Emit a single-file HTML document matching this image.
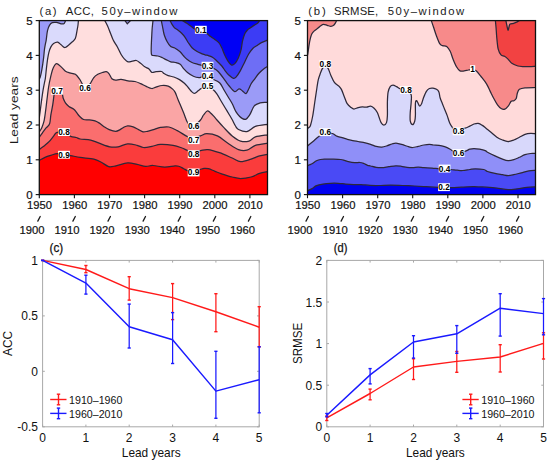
<!DOCTYPE html><html><head><meta charset="utf-8"><style>html,body{margin:0;padding:0;background:#fff;}svg{display:block}text{font-family:"Liberation Sans", sans-serif}</style></head><body>
<svg width="550" height="464" viewBox="0 0 550 464">
<rect width="550" height="464" fill="#fff"/>
<defs><clipPath id="ca"><rect x="39.3" y="20.6" width="228.2" height="174.0"/></clipPath><clipPath id="cb"><rect x="307.5" y="20.6" width="228.0" height="174.0"/></clipPath></defs>
<g clip-path="url(#ca)">
<rect x="39.3" y="20.6" width="228.2" height="174.0" fill="#ff0000"/>
<path d="M39.30,160.40 C40.25,159.90 43.05,158.25 45.00,157.40 C46.95,156.55 48.98,155.93 51.00,155.30 C53.02,154.67 54.93,153.72 57.10,153.60 C59.27,153.48 61.73,154.27 64.00,154.60 C66.27,154.93 68.00,155.13 70.70,155.60 C73.40,156.07 76.33,156.82 80.20,157.40 C84.07,157.98 90.38,158.30 93.90,159.10 C97.42,159.90 98.83,160.95 101.30,162.20 C103.77,163.45 106.25,166.00 108.70,166.60 C111.15,167.20 112.85,166.42 116.00,165.80 C119.15,165.18 124.08,163.15 127.60,162.90 C131.12,162.65 134.10,163.72 137.10,164.30 C140.10,164.88 142.95,166.20 145.60,166.40 C148.25,166.60 149.82,165.38 153.00,165.50 C156.18,165.62 161.00,167.05 164.70,167.10 C168.40,167.15 172.75,165.90 175.20,165.80 C177.65,165.70 177.98,166.02 179.40,166.50 C180.82,166.98 182.35,168.02 183.70,168.70 C185.05,169.38 185.85,170.15 187.50,170.60 C189.15,171.05 191.50,171.58 193.60,171.40 C195.70,171.22 198.35,170.00 200.10,169.50 C201.85,169.00 202.70,168.53 204.10,168.40 C205.50,168.27 206.68,168.22 208.50,168.70 C210.32,169.18 212.82,170.45 215.00,171.30 C217.18,172.15 218.73,172.85 221.60,173.80 C224.47,174.75 229.03,176.22 232.20,177.00 C235.37,177.78 237.45,178.50 240.60,178.50 C243.75,178.50 247.93,177.85 251.10,177.00 C254.27,176.15 256.87,174.28 259.60,173.40 C262.33,172.52 266.18,171.98 267.50,171.70 L267.5,19.6 L39.3,19.6 Z" fill="#fa3c3c"/>
<path d="M39.30,149.40 C39.47,149.28 39.38,149.37 40.30,148.70 C41.22,148.03 43.30,146.62 44.80,145.40 C46.30,144.18 47.80,143.00 49.30,141.40 C50.80,139.80 52.58,137.27 53.80,135.80 C55.02,134.33 55.07,133.17 56.60,132.60 C58.13,132.03 60.65,131.78 63.00,132.40 C65.35,133.02 68.48,135.45 70.70,136.30 C72.92,137.15 74.72,137.05 76.30,137.50 C77.88,137.95 77.80,138.57 80.20,139.00 C82.60,139.43 87.53,139.40 90.70,140.10 C93.87,140.80 96.03,142.08 99.20,143.20 C102.37,144.32 106.53,146.20 109.70,146.80 C112.87,147.40 115.22,147.28 118.20,146.80 C121.18,146.32 124.45,144.15 127.60,143.90 C130.75,143.65 134.45,144.70 137.10,145.30 C139.75,145.90 141.02,147.32 143.50,147.50 C145.98,147.68 149.18,146.93 152.00,146.40 C154.82,145.87 156.88,144.48 160.40,144.30 C163.92,144.12 169.50,144.68 173.10,145.30 C176.70,145.92 179.53,147.12 182.00,148.00 C184.47,148.88 185.95,150.02 187.90,150.60 C189.85,151.18 191.60,151.50 193.70,151.50 C195.80,151.50 198.13,150.92 200.50,150.60 C202.87,150.28 204.73,149.25 207.90,149.60 C211.07,149.95 215.45,151.30 219.50,152.70 C223.55,154.10 228.68,156.52 232.20,158.00 C235.72,159.48 237.45,161.42 240.60,161.60 C243.75,161.78 247.93,160.05 251.10,159.10 C254.27,158.15 256.87,156.68 259.60,155.90 C262.33,155.12 266.18,154.65 267.50,154.40 L267.5,19.6 L39.3,19.6 Z" fill="#fa6e6e"/>
<path d="M39.30,137.30 C39.83,136.55 41.33,134.40 42.50,132.80 C43.67,131.20 45.12,129.20 46.30,127.70 C47.48,126.20 48.83,125.97 49.60,123.80 C50.37,121.63 50.37,117.93 50.90,114.70 C51.43,111.47 52.27,107.73 52.80,104.40 C53.33,101.07 53.73,96.85 54.10,94.70 C54.47,92.55 54.52,92.37 55.00,91.50 C55.48,90.63 56.08,89.50 57.00,89.50 C57.92,89.50 59.60,90.67 60.50,91.50 C61.40,92.33 61.95,93.38 62.40,94.50 C62.85,95.62 62.67,96.77 63.20,98.20 C63.73,99.63 64.65,101.73 65.60,103.10 C66.55,104.47 67.53,105.38 68.90,106.40 C70.27,107.42 72.57,108.25 73.80,109.20 C75.03,110.15 75.35,110.93 76.30,112.10 C77.25,113.27 78.28,114.97 79.50,116.20 C80.72,117.43 81.95,118.88 83.60,119.50 C85.25,120.12 87.50,119.67 89.40,119.90 C91.30,120.13 93.33,120.37 95.00,120.90 C96.67,121.43 97.95,122.18 99.40,123.10 C100.85,124.02 102.07,125.32 103.70,126.40 C105.33,127.48 107.20,128.78 109.20,129.60 C111.20,130.42 113.88,131.30 115.70,131.30 C117.52,131.30 118.82,130.23 120.10,129.60 C121.38,128.97 122.13,128.13 123.40,127.50 C124.67,126.87 126.07,125.90 127.70,125.80 C129.33,125.70 131.38,126.27 133.20,126.90 C135.02,127.53 136.97,128.78 138.60,129.60 C140.23,130.42 141.53,131.52 143.00,131.80 C144.47,132.08 145.95,131.57 147.40,131.30 C148.85,131.03 150.43,130.57 151.70,130.20 C152.97,129.83 153.55,129.57 155.00,129.10 C156.45,128.63 158.08,127.75 160.40,127.40 C162.72,127.05 166.08,126.47 168.90,127.00 C171.72,127.53 174.13,128.95 177.30,130.60 C180.47,132.25 185.17,135.67 187.90,136.90 C190.63,138.13 191.60,138.17 193.70,138.00 C195.80,137.83 198.32,136.62 200.50,135.90 C202.68,135.18 203.98,133.70 206.80,133.70 C209.62,133.70 213.88,134.32 217.40,135.90 C220.92,137.48 224.38,140.92 227.90,143.20 C231.42,145.48 235.33,148.43 238.50,149.60 C241.67,150.77 244.08,150.92 246.90,150.20 C249.72,149.48 251.97,146.47 255.40,145.30 C258.83,144.13 265.48,143.55 267.50,143.20 L267.5,19.6 L39.3,19.6 Z" fill="#faa5a5"/>
<path d="M39.30,132.00 C39.72,131.28 41.02,129.50 41.80,127.70 C42.58,125.90 43.37,124.00 44.00,121.20 C44.63,118.40 45.08,114.68 45.60,110.90 C46.12,107.12 46.60,102.48 47.10,98.50 C47.60,94.52 48.00,90.65 48.60,87.00 C49.20,83.35 49.93,79.78 50.70,76.60 C51.47,73.42 52.20,70.07 53.20,67.90 C54.20,65.73 55.25,63.65 56.70,63.60 C58.15,63.55 60.43,66.33 61.90,67.60 C63.37,68.87 64.18,70.32 65.50,71.20 C66.82,72.08 68.15,72.38 69.80,72.90 C71.45,73.42 73.77,73.25 75.40,74.30 C77.03,75.35 78.43,77.58 79.60,79.20 C80.77,80.82 81.50,82.70 82.40,84.00 C83.30,85.30 84.10,86.75 85.00,87.00 C85.90,87.25 86.95,86.00 87.80,85.50 C88.65,85.00 89.13,85.28 90.10,84.00 C91.07,82.72 92.32,79.42 93.60,77.80 C94.88,76.18 96.27,75.20 97.80,74.30 C99.33,73.40 101.38,72.83 102.80,72.40 C104.22,71.97 105.25,71.47 106.30,71.70 C107.35,71.93 108.17,72.63 109.10,73.80 C110.03,74.97 110.85,77.65 111.90,78.70 C112.95,79.75 113.88,79.98 115.40,80.10 C116.92,80.22 118.90,79.28 121.00,79.40 C123.10,79.52 125.67,80.45 128.00,80.80 C130.33,81.15 132.90,81.03 135.00,81.50 C137.10,81.97 138.73,82.78 140.60,83.60 C142.47,84.42 144.33,85.58 146.20,86.40 C148.07,87.22 150.17,88.38 151.80,88.50 C153.43,88.62 154.30,87.60 156.00,87.10 C157.70,86.60 159.97,85.67 162.00,85.50 C164.03,85.33 166.47,85.53 168.20,86.10 C169.93,86.67 171.23,87.85 172.40,88.90 C173.57,89.95 174.23,90.55 175.20,92.40 C176.17,94.25 176.80,96.62 178.20,100.00 C179.60,103.38 181.98,108.83 183.60,112.70 C185.22,116.57 186.22,120.98 187.90,123.20 C189.58,125.42 191.60,126.53 193.70,126.00 C195.80,125.47 198.87,121.83 200.50,120.00 C202.13,118.17 202.38,116.50 203.50,115.00 C204.62,113.50 206.12,111.43 207.20,111.00 C208.28,110.57 208.83,111.47 210.00,112.40 C211.17,113.33 213.03,115.33 214.20,116.60 C215.37,117.87 215.42,118.20 217.00,120.00 C218.58,121.80 221.17,124.75 223.70,127.40 C226.23,130.05 229.38,133.62 232.20,135.90 C235.02,138.18 237.80,140.23 240.60,141.10 C243.40,141.97 246.53,141.80 249.00,141.10 C251.47,140.40 252.32,137.95 255.40,136.90 C258.48,135.85 265.48,135.15 267.50,134.80 L267.5,19.6 L39.3,19.6 Z" fill="#ffdede"/>
<path d="M39.30,118.00 C39.62,115.53 40.60,107.68 41.20,103.20 C41.80,98.72 42.37,94.47 42.90,91.10 C43.43,87.73 43.98,85.18 44.40,83.00 C44.82,80.82 45.07,80.40 45.40,78.00 C45.73,75.60 46.03,71.75 46.40,68.60 C46.77,65.45 47.18,61.82 47.60,59.10 C48.02,56.38 48.35,54.33 48.90,52.30 C49.45,50.27 50.12,48.37 50.90,46.90 C51.68,45.43 52.47,44.30 53.60,43.50 C54.73,42.70 56.45,41.88 57.70,42.10 C58.95,42.32 59.85,43.90 61.10,44.80 C62.35,45.70 63.47,47.88 65.20,47.50 C66.93,47.12 69.82,43.98 71.50,42.50 C73.18,41.02 74.35,40.73 75.30,38.60 C76.25,36.47 76.75,31.97 77.20,29.70 C77.65,27.43 77.80,26.52 78.00,25.00 C78.20,23.48 78.33,21.33 78.40,20.60 L39.3,19.6 Z" fill="#dadafc"/>
<path d="M104.80,20.60 C105.27,21.50 106.67,23.93 107.60,26.00 C108.53,28.07 109.47,30.67 110.40,33.00 C111.33,35.33 112.03,37.67 113.20,40.00 C114.37,42.33 116.10,44.63 117.40,47.00 C118.70,49.37 119.82,52.18 121.00,54.20 C122.18,56.22 123.33,57.82 124.50,59.10 C125.67,60.38 126.72,61.55 128.00,61.90 C129.28,62.25 130.80,61.43 132.20,61.20 C133.60,60.97 135.00,60.15 136.40,60.50 C137.80,60.85 139.20,62.25 140.60,63.30 C142.00,64.35 143.40,65.87 144.80,66.80 C146.20,67.73 147.83,67.97 149.00,68.90 C150.17,69.83 150.63,71.93 151.80,72.40 C152.97,72.87 154.37,71.85 156.00,71.70 C157.63,71.55 160.27,71.20 161.60,71.50 C162.93,71.80 162.90,72.82 164.00,73.50 C165.10,74.18 166.57,75.02 168.20,75.60 C169.83,76.18 171.92,76.33 173.80,77.00 C175.68,77.67 177.73,78.57 179.50,79.60 C181.27,80.63 182.95,81.88 184.40,83.20 C185.85,84.52 186.95,86.05 188.20,87.50 C189.45,88.95 190.88,90.92 191.90,91.90 C192.92,92.88 193.48,93.40 194.30,93.40 C195.12,93.40 195.93,92.52 196.80,91.90 C197.67,91.28 198.60,90.33 199.50,89.70 C200.40,89.07 200.87,88.63 202.20,88.10 C203.53,87.57 205.62,86.18 207.50,86.50 C209.38,86.82 211.92,88.72 213.50,90.00 C215.08,91.28 215.72,92.33 217.00,94.20 C218.28,96.07 219.80,98.87 221.20,101.20 C222.60,103.53 224.00,105.87 225.40,108.20 C226.80,110.53 228.43,113.23 229.60,115.20 C230.77,117.17 231.42,118.20 232.40,120.00 C233.38,121.80 234.48,124.42 235.50,126.00 C236.52,127.58 236.60,128.57 238.50,129.50 C240.40,130.43 244.08,132.12 246.90,131.60 C249.72,131.08 251.97,127.62 255.40,126.40 C258.83,125.18 265.48,124.65 267.50,124.30 L268.5,19.6 Z" fill="#dadafc"/>
<path d="M39.30,79.00 C39.47,78.65 39.87,78.50 40.30,76.90 C40.73,75.30 41.37,72.45 41.90,69.40 C42.43,66.35 43.08,61.83 43.50,58.60 C43.92,55.37 44.12,52.27 44.40,50.00 C44.68,47.73 44.90,46.65 45.20,45.00 C45.50,43.35 45.82,42.50 46.20,40.10 C46.58,37.70 46.93,33.10 47.50,30.60 C48.07,28.10 48.80,26.43 49.60,25.10 C50.40,23.77 51.17,23.05 52.30,22.60 C53.43,22.15 54.93,22.20 56.40,22.40 C57.87,22.60 59.87,23.57 61.10,23.80 C62.33,24.03 63.12,24.18 63.80,23.80 C64.48,23.42 64.87,22.03 65.20,21.50 C65.53,20.97 65.70,20.75 65.80,20.60 L39.3,19.6 Z" fill="#9b9bf7"/>
<path d="M153.00,20.60 C152.87,21.83 152.40,25.65 152.20,28.00 C152.00,30.35 151.95,31.87 151.80,34.70 C151.65,37.53 151.40,42.20 151.30,45.00 C151.20,47.80 151.15,49.87 151.20,51.50 C151.25,53.13 151.30,54.13 151.60,54.80 C151.90,55.47 151.98,55.30 153.00,55.50 C154.02,55.70 156.12,55.62 157.70,56.00 C159.28,56.38 161.12,57.20 162.50,57.80 C163.88,58.40 164.63,58.92 166.00,59.60 C167.37,60.28 169.12,61.42 170.70,61.90 C172.28,62.38 173.92,62.10 175.50,62.50 C177.08,62.90 178.85,63.28 180.20,64.30 C181.55,65.32 182.33,67.18 183.60,68.60 C184.87,70.02 186.17,71.52 187.80,72.80 C189.43,74.08 191.53,75.48 193.40,76.30 C195.27,77.12 197.60,77.58 199.00,77.70 C200.40,77.82 200.38,77.03 201.80,77.00 C203.22,76.97 205.55,77.08 207.50,77.50 C209.45,77.92 211.45,78.58 213.50,79.50 C215.55,80.42 218.05,81.25 219.80,83.00 C221.55,84.75 222.60,87.67 224.00,90.00 C225.40,92.33 226.80,94.67 228.20,97.00 C229.60,99.33 231.12,101.57 232.40,104.00 C233.68,106.43 234.68,109.52 235.90,111.60 C237.12,113.68 238.60,115.33 239.70,116.50 C240.80,117.67 241.53,118.12 242.50,118.60 C243.47,119.08 244.58,119.63 245.50,119.40 C246.42,119.17 247.18,118.17 248.00,117.20 C248.82,116.23 249.35,115.50 250.40,113.60 C251.45,111.70 252.68,107.58 254.30,105.80 C255.92,104.02 258.17,103.48 260.10,102.90 C262.03,102.32 264.67,102.40 265.90,102.30 C267.13,102.20 267.23,102.30 267.50,102.30 L268.5,19.6 Z" fill="#9b9bf7"/>
<path d="M125.0,20.6 L127.3,23.8 L130.5,20.6 Z" fill="#9b9bf7"/>
<path d="M161.30,20.60 C161.50,21.58 162.02,24.15 162.50,26.50 C162.98,28.85 163.42,32.15 164.20,34.70 C164.98,37.25 166.12,39.82 167.20,41.80 C168.28,43.78 169.52,45.62 170.70,46.60 C171.88,47.58 173.12,47.12 174.30,47.70 C175.48,48.28 176.72,49.30 177.80,50.10 C178.88,50.90 179.82,51.52 180.80,52.50 C181.78,53.48 182.62,54.82 183.70,56.00 C184.78,57.18 185.92,58.52 187.30,59.60 C188.68,60.68 190.23,61.72 192.00,62.50 C193.77,63.28 196.13,63.80 197.90,64.30 C199.67,64.80 201.00,65.22 202.60,65.50 C204.20,65.78 205.68,65.53 207.50,66.00 C209.32,66.47 211.68,67.33 213.50,68.30 C215.32,69.27 216.48,69.78 218.40,71.80 C220.32,73.82 223.20,78.03 225.00,80.40 C226.80,82.77 227.57,84.13 229.20,86.00 C230.83,87.87 233.17,91.13 234.80,91.60 C236.43,92.07 237.72,88.92 239.00,88.80 C240.28,88.68 241.33,90.08 242.50,90.90 C243.67,91.72 244.95,94.05 246.00,93.70 C247.05,93.35 247.97,90.42 248.80,88.80 C249.63,87.18 250.00,85.67 251.00,84.00 C252.00,82.33 253.47,80.60 254.80,78.80 C256.13,77.00 257.37,74.95 259.00,73.20 C260.63,71.45 263.18,69.42 264.60,68.30 C266.02,67.18 267.02,66.80 267.50,66.50 L268.5,19.6 Z" fill="#6e6ef5"/>
<path d="M170.10,20.60 C170.40,21.18 171.20,22.93 171.90,24.10 C172.60,25.27 173.32,26.62 174.30,27.60 C175.28,28.58 176.62,29.10 177.80,30.00 C178.98,30.90 180.22,31.82 181.40,33.00 C182.58,34.18 183.72,35.43 184.90,37.10 C186.08,38.77 187.32,41.23 188.50,43.00 C189.68,44.77 190.63,46.32 192.00,47.70 C193.37,49.08 195.12,50.32 196.70,51.30 C198.28,52.28 200.12,53.02 201.50,53.60 C202.88,54.18 203.78,54.43 205.00,54.80 C206.22,55.17 207.50,55.35 208.80,55.80 C210.10,56.25 211.57,56.73 212.80,57.50 C214.03,58.27 214.70,58.98 216.20,60.40 C217.70,61.82 220.33,64.30 221.80,66.00 C223.27,67.70 223.88,69.13 225.00,70.60 C226.12,72.07 227.10,73.52 228.50,74.80 C229.90,76.08 232.12,77.95 233.40,78.30 C234.68,78.65 235.03,78.18 236.20,76.90 C237.37,75.62 239.00,73.05 240.40,70.60 C241.80,68.15 243.20,65.00 244.60,62.20 C246.00,59.40 247.40,56.13 248.80,53.80 C250.20,51.47 251.60,49.60 253.00,48.20 C254.40,46.80 255.80,46.33 257.20,45.40 C258.60,44.47 259.68,43.47 261.40,42.60 C263.12,41.73 266.48,40.60 267.50,40.20 L268.5,19.6 Z" fill="#3c3cf5"/>
<path d="M182.60,20.60 C183.38,21.08 185.73,22.43 187.30,23.50 C188.87,24.57 190.63,26.00 192.00,27.00 C193.37,28.00 194.03,28.83 195.50,29.50 C196.97,30.17 198.98,30.40 200.80,31.00 C202.62,31.60 204.77,32.17 206.40,33.10 C208.03,34.03 209.20,35.55 210.60,36.60 C212.00,37.65 213.40,38.35 214.80,39.40 C216.20,40.45 217.83,41.50 219.00,42.90 C220.17,44.30 220.87,45.82 221.80,47.80 C222.73,49.78 223.60,52.63 224.60,54.80 C225.60,56.97 226.68,59.10 227.80,60.80 C228.92,62.50 230.13,64.53 231.30,65.00 C232.47,65.47 233.63,64.77 234.80,63.60 C235.97,62.43 237.25,60.33 238.30,58.00 C239.35,55.67 240.40,52.40 241.10,49.60 C241.80,46.80 241.92,43.77 242.50,41.20 C243.08,38.63 243.78,36.07 244.60,34.20 C245.42,32.33 246.53,31.00 247.40,30.00 C248.27,29.00 248.70,28.97 249.80,28.20 C250.90,27.43 252.72,26.22 254.00,25.40 C255.28,24.58 256.57,24.10 257.50,23.30 C258.43,22.50 259.25,21.05 259.60,20.60 Z" fill="#0000f5"/>
<path d="M39.30,160.40 C40.25,159.90 43.05,158.25 45.00,157.40 C46.95,156.55 48.98,155.93 51.00,155.30 C53.02,154.67 54.93,153.72 57.10,153.60 C59.27,153.48 61.73,154.27 64.00,154.60 C66.27,154.93 68.00,155.13 70.70,155.60 C73.40,156.07 76.33,156.82 80.20,157.40 C84.07,157.98 90.38,158.30 93.90,159.10 C97.42,159.90 98.83,160.95 101.30,162.20 C103.77,163.45 106.25,166.00 108.70,166.60 C111.15,167.20 112.85,166.42 116.00,165.80 C119.15,165.18 124.08,163.15 127.60,162.90 C131.12,162.65 134.10,163.72 137.10,164.30 C140.10,164.88 142.95,166.20 145.60,166.40 C148.25,166.60 149.82,165.38 153.00,165.50 C156.18,165.62 161.00,167.05 164.70,167.10 C168.40,167.15 172.75,165.90 175.20,165.80 C177.65,165.70 177.98,166.02 179.40,166.50 C180.82,166.98 182.35,168.02 183.70,168.70 C185.05,169.38 185.85,170.15 187.50,170.60 C189.15,171.05 191.50,171.58 193.60,171.40 C195.70,171.22 198.35,170.00 200.10,169.50 C201.85,169.00 202.70,168.53 204.10,168.40 C205.50,168.27 206.68,168.22 208.50,168.70 C210.32,169.18 212.82,170.45 215.00,171.30 C217.18,172.15 218.73,172.85 221.60,173.80 C224.47,174.75 229.03,176.22 232.20,177.00 C235.37,177.78 237.45,178.50 240.60,178.50 C243.75,178.50 247.93,177.85 251.10,177.00 C254.27,176.15 256.87,174.28 259.60,173.40 C262.33,172.52 266.18,171.98 267.50,171.70" fill="none" stroke="#2e2838" stroke-width="1.25" stroke-linejoin="round"/>
<path d="M39.30,149.40 C39.47,149.28 39.38,149.37 40.30,148.70 C41.22,148.03 43.30,146.62 44.80,145.40 C46.30,144.18 47.80,143.00 49.30,141.40 C50.80,139.80 52.58,137.27 53.80,135.80 C55.02,134.33 55.07,133.17 56.60,132.60 C58.13,132.03 60.65,131.78 63.00,132.40 C65.35,133.02 68.48,135.45 70.70,136.30 C72.92,137.15 74.72,137.05 76.30,137.50 C77.88,137.95 77.80,138.57 80.20,139.00 C82.60,139.43 87.53,139.40 90.70,140.10 C93.87,140.80 96.03,142.08 99.20,143.20 C102.37,144.32 106.53,146.20 109.70,146.80 C112.87,147.40 115.22,147.28 118.20,146.80 C121.18,146.32 124.45,144.15 127.60,143.90 C130.75,143.65 134.45,144.70 137.10,145.30 C139.75,145.90 141.02,147.32 143.50,147.50 C145.98,147.68 149.18,146.93 152.00,146.40 C154.82,145.87 156.88,144.48 160.40,144.30 C163.92,144.12 169.50,144.68 173.10,145.30 C176.70,145.92 179.53,147.12 182.00,148.00 C184.47,148.88 185.95,150.02 187.90,150.60 C189.85,151.18 191.60,151.50 193.70,151.50 C195.80,151.50 198.13,150.92 200.50,150.60 C202.87,150.28 204.73,149.25 207.90,149.60 C211.07,149.95 215.45,151.30 219.50,152.70 C223.55,154.10 228.68,156.52 232.20,158.00 C235.72,159.48 237.45,161.42 240.60,161.60 C243.75,161.78 247.93,160.05 251.10,159.10 C254.27,158.15 256.87,156.68 259.60,155.90 C262.33,155.12 266.18,154.65 267.50,154.40" fill="none" stroke="#2e2838" stroke-width="1.25" stroke-linejoin="round"/>
<path d="M39.30,137.30 C39.83,136.55 41.33,134.40 42.50,132.80 C43.67,131.20 45.12,129.20 46.30,127.70 C47.48,126.20 48.83,125.97 49.60,123.80 C50.37,121.63 50.37,117.93 50.90,114.70 C51.43,111.47 52.27,107.73 52.80,104.40 C53.33,101.07 53.73,96.85 54.10,94.70 C54.47,92.55 54.52,92.37 55.00,91.50 C55.48,90.63 56.08,89.50 57.00,89.50 C57.92,89.50 59.60,90.67 60.50,91.50 C61.40,92.33 61.95,93.38 62.40,94.50 C62.85,95.62 62.67,96.77 63.20,98.20 C63.73,99.63 64.65,101.73 65.60,103.10 C66.55,104.47 67.53,105.38 68.90,106.40 C70.27,107.42 72.57,108.25 73.80,109.20 C75.03,110.15 75.35,110.93 76.30,112.10 C77.25,113.27 78.28,114.97 79.50,116.20 C80.72,117.43 81.95,118.88 83.60,119.50 C85.25,120.12 87.50,119.67 89.40,119.90 C91.30,120.13 93.33,120.37 95.00,120.90 C96.67,121.43 97.95,122.18 99.40,123.10 C100.85,124.02 102.07,125.32 103.70,126.40 C105.33,127.48 107.20,128.78 109.20,129.60 C111.20,130.42 113.88,131.30 115.70,131.30 C117.52,131.30 118.82,130.23 120.10,129.60 C121.38,128.97 122.13,128.13 123.40,127.50 C124.67,126.87 126.07,125.90 127.70,125.80 C129.33,125.70 131.38,126.27 133.20,126.90 C135.02,127.53 136.97,128.78 138.60,129.60 C140.23,130.42 141.53,131.52 143.00,131.80 C144.47,132.08 145.95,131.57 147.40,131.30 C148.85,131.03 150.43,130.57 151.70,130.20 C152.97,129.83 153.55,129.57 155.00,129.10 C156.45,128.63 158.08,127.75 160.40,127.40 C162.72,127.05 166.08,126.47 168.90,127.00 C171.72,127.53 174.13,128.95 177.30,130.60 C180.47,132.25 185.17,135.67 187.90,136.90 C190.63,138.13 191.60,138.17 193.70,138.00 C195.80,137.83 198.32,136.62 200.50,135.90 C202.68,135.18 203.98,133.70 206.80,133.70 C209.62,133.70 213.88,134.32 217.40,135.90 C220.92,137.48 224.38,140.92 227.90,143.20 C231.42,145.48 235.33,148.43 238.50,149.60 C241.67,150.77 244.08,150.92 246.90,150.20 C249.72,149.48 251.97,146.47 255.40,145.30 C258.83,144.13 265.48,143.55 267.50,143.20" fill="none" stroke="#2e2838" stroke-width="1.25" stroke-linejoin="round"/>
<path d="M39.30,132.00 C39.72,131.28 41.02,129.50 41.80,127.70 C42.58,125.90 43.37,124.00 44.00,121.20 C44.63,118.40 45.08,114.68 45.60,110.90 C46.12,107.12 46.60,102.48 47.10,98.50 C47.60,94.52 48.00,90.65 48.60,87.00 C49.20,83.35 49.93,79.78 50.70,76.60 C51.47,73.42 52.20,70.07 53.20,67.90 C54.20,65.73 55.25,63.65 56.70,63.60 C58.15,63.55 60.43,66.33 61.90,67.60 C63.37,68.87 64.18,70.32 65.50,71.20 C66.82,72.08 68.15,72.38 69.80,72.90 C71.45,73.42 73.77,73.25 75.40,74.30 C77.03,75.35 78.43,77.58 79.60,79.20 C80.77,80.82 81.50,82.70 82.40,84.00 C83.30,85.30 84.10,86.75 85.00,87.00 C85.90,87.25 86.95,86.00 87.80,85.50 C88.65,85.00 89.13,85.28 90.10,84.00 C91.07,82.72 92.32,79.42 93.60,77.80 C94.88,76.18 96.27,75.20 97.80,74.30 C99.33,73.40 101.38,72.83 102.80,72.40 C104.22,71.97 105.25,71.47 106.30,71.70 C107.35,71.93 108.17,72.63 109.10,73.80 C110.03,74.97 110.85,77.65 111.90,78.70 C112.95,79.75 113.88,79.98 115.40,80.10 C116.92,80.22 118.90,79.28 121.00,79.40 C123.10,79.52 125.67,80.45 128.00,80.80 C130.33,81.15 132.90,81.03 135.00,81.50 C137.10,81.97 138.73,82.78 140.60,83.60 C142.47,84.42 144.33,85.58 146.20,86.40 C148.07,87.22 150.17,88.38 151.80,88.50 C153.43,88.62 154.30,87.60 156.00,87.10 C157.70,86.60 159.97,85.67 162.00,85.50 C164.03,85.33 166.47,85.53 168.20,86.10 C169.93,86.67 171.23,87.85 172.40,88.90 C173.57,89.95 174.23,90.55 175.20,92.40 C176.17,94.25 176.80,96.62 178.20,100.00 C179.60,103.38 181.98,108.83 183.60,112.70 C185.22,116.57 186.22,120.98 187.90,123.20 C189.58,125.42 191.60,126.53 193.70,126.00 C195.80,125.47 198.87,121.83 200.50,120.00 C202.13,118.17 202.38,116.50 203.50,115.00 C204.62,113.50 206.12,111.43 207.20,111.00 C208.28,110.57 208.83,111.47 210.00,112.40 C211.17,113.33 213.03,115.33 214.20,116.60 C215.37,117.87 215.42,118.20 217.00,120.00 C218.58,121.80 221.17,124.75 223.70,127.40 C226.23,130.05 229.38,133.62 232.20,135.90 C235.02,138.18 237.80,140.23 240.60,141.10 C243.40,141.97 246.53,141.80 249.00,141.10 C251.47,140.40 252.32,137.95 255.40,136.90 C258.48,135.85 265.48,135.15 267.50,134.80" fill="none" stroke="#2e2838" stroke-width="1.25" stroke-linejoin="round"/>
<path d="M39.30,118.00 C39.62,115.53 40.60,107.68 41.20,103.20 C41.80,98.72 42.37,94.47 42.90,91.10 C43.43,87.73 43.98,85.18 44.40,83.00 C44.82,80.82 45.07,80.40 45.40,78.00 C45.73,75.60 46.03,71.75 46.40,68.60 C46.77,65.45 47.18,61.82 47.60,59.10 C48.02,56.38 48.35,54.33 48.90,52.30 C49.45,50.27 50.12,48.37 50.90,46.90 C51.68,45.43 52.47,44.30 53.60,43.50 C54.73,42.70 56.45,41.88 57.70,42.10 C58.95,42.32 59.85,43.90 61.10,44.80 C62.35,45.70 63.47,47.88 65.20,47.50 C66.93,47.12 69.82,43.98 71.50,42.50 C73.18,41.02 74.35,40.73 75.30,38.60 C76.25,36.47 76.75,31.97 77.20,29.70 C77.65,27.43 77.80,26.52 78.00,25.00 C78.20,23.48 78.33,21.33 78.40,20.60" fill="none" stroke="#2e2838" stroke-width="1.25" stroke-linejoin="round"/>
<path d="M104.80,20.60 C105.27,21.50 106.67,23.93 107.60,26.00 C108.53,28.07 109.47,30.67 110.40,33.00 C111.33,35.33 112.03,37.67 113.20,40.00 C114.37,42.33 116.10,44.63 117.40,47.00 C118.70,49.37 119.82,52.18 121.00,54.20 C122.18,56.22 123.33,57.82 124.50,59.10 C125.67,60.38 126.72,61.55 128.00,61.90 C129.28,62.25 130.80,61.43 132.20,61.20 C133.60,60.97 135.00,60.15 136.40,60.50 C137.80,60.85 139.20,62.25 140.60,63.30 C142.00,64.35 143.40,65.87 144.80,66.80 C146.20,67.73 147.83,67.97 149.00,68.90 C150.17,69.83 150.63,71.93 151.80,72.40 C152.97,72.87 154.37,71.85 156.00,71.70 C157.63,71.55 160.27,71.20 161.60,71.50 C162.93,71.80 162.90,72.82 164.00,73.50 C165.10,74.18 166.57,75.02 168.20,75.60 C169.83,76.18 171.92,76.33 173.80,77.00 C175.68,77.67 177.73,78.57 179.50,79.60 C181.27,80.63 182.95,81.88 184.40,83.20 C185.85,84.52 186.95,86.05 188.20,87.50 C189.45,88.95 190.88,90.92 191.90,91.90 C192.92,92.88 193.48,93.40 194.30,93.40 C195.12,93.40 195.93,92.52 196.80,91.90 C197.67,91.28 198.60,90.33 199.50,89.70 C200.40,89.07 200.87,88.63 202.20,88.10 C203.53,87.57 205.62,86.18 207.50,86.50 C209.38,86.82 211.92,88.72 213.50,90.00 C215.08,91.28 215.72,92.33 217.00,94.20 C218.28,96.07 219.80,98.87 221.20,101.20 C222.60,103.53 224.00,105.87 225.40,108.20 C226.80,110.53 228.43,113.23 229.60,115.20 C230.77,117.17 231.42,118.20 232.40,120.00 C233.38,121.80 234.48,124.42 235.50,126.00 C236.52,127.58 236.60,128.57 238.50,129.50 C240.40,130.43 244.08,132.12 246.90,131.60 C249.72,131.08 251.97,127.62 255.40,126.40 C258.83,125.18 265.48,124.65 267.50,124.30" fill="none" stroke="#2e2838" stroke-width="1.25" stroke-linejoin="round"/>
<path d="M39.30,79.00 C39.47,78.65 39.87,78.50 40.30,76.90 C40.73,75.30 41.37,72.45 41.90,69.40 C42.43,66.35 43.08,61.83 43.50,58.60 C43.92,55.37 44.12,52.27 44.40,50.00 C44.68,47.73 44.90,46.65 45.20,45.00 C45.50,43.35 45.82,42.50 46.20,40.10 C46.58,37.70 46.93,33.10 47.50,30.60 C48.07,28.10 48.80,26.43 49.60,25.10 C50.40,23.77 51.17,23.05 52.30,22.60 C53.43,22.15 54.93,22.20 56.40,22.40 C57.87,22.60 59.87,23.57 61.10,23.80 C62.33,24.03 63.12,24.18 63.80,23.80 C64.48,23.42 64.87,22.03 65.20,21.50 C65.53,20.97 65.70,20.75 65.80,20.60" fill="none" stroke="#2e2838" stroke-width="1.25" stroke-linejoin="round"/>
<path d="M153.00,20.60 C152.87,21.83 152.40,25.65 152.20,28.00 C152.00,30.35 151.95,31.87 151.80,34.70 C151.65,37.53 151.40,42.20 151.30,45.00 C151.20,47.80 151.15,49.87 151.20,51.50 C151.25,53.13 151.30,54.13 151.60,54.80 C151.90,55.47 151.98,55.30 153.00,55.50 C154.02,55.70 156.12,55.62 157.70,56.00 C159.28,56.38 161.12,57.20 162.50,57.80 C163.88,58.40 164.63,58.92 166.00,59.60 C167.37,60.28 169.12,61.42 170.70,61.90 C172.28,62.38 173.92,62.10 175.50,62.50 C177.08,62.90 178.85,63.28 180.20,64.30 C181.55,65.32 182.33,67.18 183.60,68.60 C184.87,70.02 186.17,71.52 187.80,72.80 C189.43,74.08 191.53,75.48 193.40,76.30 C195.27,77.12 197.60,77.58 199.00,77.70 C200.40,77.82 200.38,77.03 201.80,77.00 C203.22,76.97 205.55,77.08 207.50,77.50 C209.45,77.92 211.45,78.58 213.50,79.50 C215.55,80.42 218.05,81.25 219.80,83.00 C221.55,84.75 222.60,87.67 224.00,90.00 C225.40,92.33 226.80,94.67 228.20,97.00 C229.60,99.33 231.12,101.57 232.40,104.00 C233.68,106.43 234.68,109.52 235.90,111.60 C237.12,113.68 238.60,115.33 239.70,116.50 C240.80,117.67 241.53,118.12 242.50,118.60 C243.47,119.08 244.58,119.63 245.50,119.40 C246.42,119.17 247.18,118.17 248.00,117.20 C248.82,116.23 249.35,115.50 250.40,113.60 C251.45,111.70 252.68,107.58 254.30,105.80 C255.92,104.02 258.17,103.48 260.10,102.90 C262.03,102.32 264.67,102.40 265.90,102.30 C267.13,102.20 267.23,102.30 267.50,102.30" fill="none" stroke="#2e2838" stroke-width="1.25" stroke-linejoin="round"/>
<path d="M161.30,20.60 C161.50,21.58 162.02,24.15 162.50,26.50 C162.98,28.85 163.42,32.15 164.20,34.70 C164.98,37.25 166.12,39.82 167.20,41.80 C168.28,43.78 169.52,45.62 170.70,46.60 C171.88,47.58 173.12,47.12 174.30,47.70 C175.48,48.28 176.72,49.30 177.80,50.10 C178.88,50.90 179.82,51.52 180.80,52.50 C181.78,53.48 182.62,54.82 183.70,56.00 C184.78,57.18 185.92,58.52 187.30,59.60 C188.68,60.68 190.23,61.72 192.00,62.50 C193.77,63.28 196.13,63.80 197.90,64.30 C199.67,64.80 201.00,65.22 202.60,65.50 C204.20,65.78 205.68,65.53 207.50,66.00 C209.32,66.47 211.68,67.33 213.50,68.30 C215.32,69.27 216.48,69.78 218.40,71.80 C220.32,73.82 223.20,78.03 225.00,80.40 C226.80,82.77 227.57,84.13 229.20,86.00 C230.83,87.87 233.17,91.13 234.80,91.60 C236.43,92.07 237.72,88.92 239.00,88.80 C240.28,88.68 241.33,90.08 242.50,90.90 C243.67,91.72 244.95,94.05 246.00,93.70 C247.05,93.35 247.97,90.42 248.80,88.80 C249.63,87.18 250.00,85.67 251.00,84.00 C252.00,82.33 253.47,80.60 254.80,78.80 C256.13,77.00 257.37,74.95 259.00,73.20 C260.63,71.45 263.18,69.42 264.60,68.30 C266.02,67.18 267.02,66.80 267.50,66.50" fill="none" stroke="#2e2838" stroke-width="1.25" stroke-linejoin="round"/>
<path d="M170.10,20.60 C170.40,21.18 171.20,22.93 171.90,24.10 C172.60,25.27 173.32,26.62 174.30,27.60 C175.28,28.58 176.62,29.10 177.80,30.00 C178.98,30.90 180.22,31.82 181.40,33.00 C182.58,34.18 183.72,35.43 184.90,37.10 C186.08,38.77 187.32,41.23 188.50,43.00 C189.68,44.77 190.63,46.32 192.00,47.70 C193.37,49.08 195.12,50.32 196.70,51.30 C198.28,52.28 200.12,53.02 201.50,53.60 C202.88,54.18 203.78,54.43 205.00,54.80 C206.22,55.17 207.50,55.35 208.80,55.80 C210.10,56.25 211.57,56.73 212.80,57.50 C214.03,58.27 214.70,58.98 216.20,60.40 C217.70,61.82 220.33,64.30 221.80,66.00 C223.27,67.70 223.88,69.13 225.00,70.60 C226.12,72.07 227.10,73.52 228.50,74.80 C229.90,76.08 232.12,77.95 233.40,78.30 C234.68,78.65 235.03,78.18 236.20,76.90 C237.37,75.62 239.00,73.05 240.40,70.60 C241.80,68.15 243.20,65.00 244.60,62.20 C246.00,59.40 247.40,56.13 248.80,53.80 C250.20,51.47 251.60,49.60 253.00,48.20 C254.40,46.80 255.80,46.33 257.20,45.40 C258.60,44.47 259.68,43.47 261.40,42.60 C263.12,41.73 266.48,40.60 267.50,40.20" fill="none" stroke="#2e2838" stroke-width="1.25" stroke-linejoin="round"/>
<path d="M182.60,20.60 C183.38,21.08 185.73,22.43 187.30,23.50 C188.87,24.57 190.63,26.00 192.00,27.00 C193.37,28.00 194.03,28.83 195.50,29.50 C196.97,30.17 198.98,30.40 200.80,31.00 C202.62,31.60 204.77,32.17 206.40,33.10 C208.03,34.03 209.20,35.55 210.60,36.60 C212.00,37.65 213.40,38.35 214.80,39.40 C216.20,40.45 217.83,41.50 219.00,42.90 C220.17,44.30 220.87,45.82 221.80,47.80 C222.73,49.78 223.60,52.63 224.60,54.80 C225.60,56.97 226.68,59.10 227.80,60.80 C228.92,62.50 230.13,64.53 231.30,65.00 C232.47,65.47 233.63,64.77 234.80,63.60 C235.97,62.43 237.25,60.33 238.30,58.00 C239.35,55.67 240.40,52.40 241.10,49.60 C241.80,46.80 241.92,43.77 242.50,41.20 C243.08,38.63 243.78,36.07 244.60,34.20 C245.42,32.33 246.53,31.00 247.40,30.00 C248.27,29.00 248.70,28.97 249.80,28.20 C250.90,27.43 252.72,26.22 254.00,25.40 C255.28,24.58 256.57,24.10 257.50,23.30 C258.43,22.50 259.25,21.05 259.60,20.60" fill="none" stroke="#2e2838" stroke-width="1.25" stroke-linejoin="round"/>
<path d="M125.0,20.6 L127.3,23.8 L130.5,20.6" fill="none" stroke="#2e2838" stroke-width="1.25"/>
</g>
<g clip-path="url(#cb)">
<rect x="307.5" y="20.6" width="228.0" height="174.0" fill="#ffdada"/>
<path d="M307.50,128.50 C307.83,128.25 308.98,127.58 309.50,127.00 C310.02,126.42 310.07,126.83 310.60,125.00 C311.13,123.17 312.00,119.83 312.70,116.00 C313.40,112.17 314.10,106.67 314.80,102.00 C315.50,97.33 316.32,91.73 316.90,88.00 C317.48,84.27 317.72,82.05 318.30,79.60 C318.88,77.15 319.70,75.17 320.40,73.30 C321.10,71.43 321.68,69.62 322.50,68.40 C323.32,67.18 324.37,66.00 325.30,66.00 C326.23,66.00 327.17,66.83 328.10,68.40 C329.03,69.97 329.85,73.07 330.90,75.40 C331.95,77.73 333.12,80.65 334.40,82.40 C335.68,84.15 337.43,84.73 338.60,85.90 C339.77,87.07 340.47,87.65 341.40,89.40 C342.33,91.15 343.27,94.07 344.20,96.40 C345.13,98.73 345.83,101.53 347.00,103.40 C348.17,105.27 350.03,106.67 351.20,107.60 C352.37,108.53 352.83,109.00 354.00,109.00 C355.17,109.00 356.80,107.95 358.20,107.60 C359.60,107.25 361.00,106.97 362.40,106.90 C363.80,106.83 365.23,107.32 366.60,107.20 C367.97,107.08 369.35,106.02 370.60,106.20 C371.85,106.38 372.98,107.25 374.10,108.30 C375.22,109.35 376.48,111.05 377.30,112.50 C378.12,113.95 378.37,115.32 379.00,117.00 C379.63,118.68 380.28,121.25 381.10,122.60 C381.92,123.95 383.00,125.10 383.90,125.10 C384.80,125.10 385.92,124.18 386.50,122.60 C387.08,121.02 387.25,119.03 387.40,115.60 C387.55,112.17 387.28,105.90 387.40,102.00 C387.52,98.10 387.63,94.77 388.10,92.20 C388.57,89.63 389.38,87.77 390.20,86.60 C391.02,85.43 391.95,85.20 393.00,85.20 C394.05,85.20 395.33,86.02 396.50,86.60 C397.67,87.18 398.42,87.97 400.00,88.70 C401.58,89.43 404.17,90.07 406.00,91.00 C407.83,91.93 410.13,92.47 411.00,94.30 C411.87,96.13 411.33,98.85 411.20,102.00 C411.07,105.15 410.35,110.00 410.20,113.20 C410.05,116.40 409.90,119.28 410.30,121.20 C410.70,123.12 411.87,124.70 412.60,124.70 C413.33,124.70 414.23,122.72 414.70,121.20 C415.17,119.68 415.28,118.57 415.40,115.60 C415.52,112.63 415.25,105.90 415.40,103.40 C415.55,100.90 415.95,100.83 416.30,100.60 C416.65,100.37 416.95,101.10 417.50,102.00 C418.05,102.90 418.90,105.77 419.60,106.00 C420.30,106.23 421.05,104.77 421.70,103.40 C422.35,102.03 422.72,99.82 423.50,97.80 C424.28,95.78 425.42,92.85 426.40,91.30 C427.38,89.75 428.30,89.03 429.40,88.50 C430.50,87.97 431.82,87.97 433.00,88.10 C434.18,88.23 435.52,88.67 436.50,89.30 C437.48,89.93 438.30,90.48 438.90,91.90 C439.50,93.32 439.52,95.83 440.10,97.80 C440.68,99.77 441.62,101.72 442.40,103.70 C443.18,105.68 444.00,107.72 444.80,109.70 C445.60,111.68 446.40,113.43 447.20,115.60 C448.00,117.77 448.80,120.82 449.60,122.70 C450.40,124.58 451.35,125.97 452.00,126.90 C452.65,127.83 452.40,127.98 453.50,128.30 C454.60,128.62 456.70,128.82 458.60,128.80 C460.50,128.78 463.03,128.65 464.90,128.20 C466.77,127.75 468.28,126.80 469.80,126.10 C471.32,125.40 472.60,124.47 474.00,124.00 C475.40,123.53 476.80,123.07 478.20,123.30 C479.60,123.53 481.05,124.53 482.40,125.40 C483.75,126.27 484.82,127.32 486.30,128.50 C487.78,129.68 489.53,131.05 491.30,132.50 C493.07,133.95 495.03,135.95 496.90,137.20 C498.77,138.45 500.63,139.28 502.50,140.00 C504.37,140.72 506.22,141.50 508.10,141.50 C509.98,141.50 511.92,140.72 513.80,140.00 C515.68,139.28 517.53,138.13 519.40,137.20 C521.27,136.27 523.13,135.03 525.00,134.40 C526.87,133.77 528.85,133.50 530.60,133.40 C532.35,133.30 534.68,133.73 535.50,133.80 L535.5,195.6 L307.5,195.6 Z" fill="#d8d8fb"/>
<path d="M307.50,145.90 C308.42,145.17 311.07,143.12 313.00,141.50 C314.93,139.88 317.05,137.53 319.10,136.20 C321.15,134.87 323.08,133.95 325.30,133.50 C327.52,133.05 330.48,133.05 332.40,133.50 C334.32,133.95 335.18,135.52 336.80,136.20 C338.42,136.88 340.33,137.07 342.10,137.60 C343.87,138.13 345.63,138.90 347.40,139.40 C349.17,139.90 350.93,140.25 352.70,140.60 C354.47,140.95 356.23,141.20 358.00,141.50 C359.77,141.80 361.20,141.93 363.30,142.40 C365.40,142.87 368.45,143.63 370.60,144.30 C372.75,144.97 374.33,145.93 376.20,146.40 C378.07,146.87 379.93,147.22 381.80,147.10 C383.67,146.98 385.53,146.28 387.40,145.70 C389.27,145.12 391.37,144.00 393.00,143.60 C394.63,143.20 395.57,143.12 397.20,143.30 C398.83,143.48 400.93,144.13 402.80,144.70 C404.67,145.27 406.77,146.23 408.40,146.70 C410.03,147.17 410.97,147.55 412.60,147.50 C414.23,147.45 416.33,146.82 418.20,146.40 C420.07,145.98 421.97,145.35 423.80,145.00 C425.63,144.65 427.60,144.30 429.20,144.30 C430.80,144.30 431.77,144.83 433.40,145.00 C435.03,145.17 437.13,145.02 439.00,145.30 C440.87,145.58 442.73,146.05 444.60,146.70 C446.47,147.35 448.80,148.48 450.20,149.20 C451.60,149.92 451.60,150.62 453.00,151.00 C454.40,151.38 456.62,151.45 458.60,151.50 C460.58,151.55 463.03,151.68 464.90,151.30 C466.77,150.92 468.28,149.67 469.80,149.20 C471.32,148.73 472.37,148.50 474.00,148.50 C475.63,148.50 477.73,148.85 479.60,149.20 C481.47,149.55 483.88,150.10 485.20,150.60 C486.52,151.10 485.87,151.32 487.50,152.20 C489.13,153.08 492.50,154.75 495.00,155.90 C497.50,157.05 500.32,158.32 502.50,159.10 C504.68,159.88 506.22,160.50 508.10,160.60 C509.98,160.70 511.92,160.25 513.80,159.70 C515.68,159.15 517.53,158.15 519.40,157.30 C521.27,156.45 523.13,155.23 525.00,154.60 C526.87,153.97 528.85,153.68 530.60,153.50 C532.35,153.32 534.68,153.50 535.50,153.50 L535.5,195.6 L307.5,195.6 Z" fill="#8f8ff8"/>
<path d="M307.50,165.50 C308.17,165.25 310.00,164.78 311.50,164.00 C313.00,163.22 315.02,161.55 316.50,160.80 C317.98,160.05 318.90,159.77 320.40,159.50 C321.90,159.23 323.38,159.25 325.50,159.20 C327.62,159.15 330.57,159.15 333.10,159.20 C335.63,159.25 338.80,159.30 340.70,159.50 C342.60,159.70 343.22,160.03 344.50,160.40 C345.78,160.77 346.70,161.32 348.40,161.70 C350.10,162.08 352.80,162.57 354.70,162.70 C356.60,162.83 358.32,162.38 359.80,162.50 C361.28,162.62 362.32,162.93 363.60,163.40 C364.88,163.87 366.33,164.87 367.50,165.30 C368.67,165.73 369.15,165.65 370.60,166.00 C372.05,166.35 374.33,167.12 376.20,167.40 C378.07,167.68 379.70,167.82 381.80,167.70 C383.90,167.58 386.47,167.02 388.80,166.70 C391.13,166.38 393.70,165.87 395.80,165.80 C397.90,165.73 399.53,166.03 401.40,166.30 C403.27,166.57 405.13,167.17 407.00,167.40 C408.87,167.63 410.73,167.73 412.60,167.70 C414.47,167.67 416.33,167.20 418.20,167.20 C420.07,167.20 421.50,167.55 423.80,167.70 C426.10,167.85 429.47,167.92 432.00,168.10 C434.53,168.28 436.90,168.65 439.00,168.80 C441.10,168.95 442.62,168.88 444.60,169.00 C446.58,169.12 448.80,169.30 450.90,169.50 C453.00,169.70 455.22,170.03 457.20,170.20 C459.18,170.37 460.70,170.62 462.80,170.50 C464.90,170.38 467.70,169.78 469.80,169.50 C471.90,169.22 473.07,168.80 475.40,168.80 C477.73,168.80 481.78,169.05 483.80,169.50 C485.82,169.95 485.63,170.85 487.50,171.50 C489.37,172.15 492.50,172.87 495.00,173.40 C497.50,173.93 500.32,174.33 502.50,174.70 C504.68,175.07 506.22,175.60 508.10,175.60 C509.98,175.60 511.60,175.17 513.80,174.70 C516.00,174.23 518.80,173.43 521.30,172.80 C523.80,172.17 526.43,171.30 528.80,170.90 C531.17,170.50 534.38,170.48 535.50,170.40 L535.5,195.6 L307.5,195.6 Z" fill="#4a4af5"/>
<path d="M307.50,190.80 C308.37,190.37 311.20,189.07 312.70,188.20 C314.20,187.33 314.80,186.28 316.50,185.60 C318.20,184.92 320.57,184.48 322.90,184.10 C325.23,183.72 327.95,183.43 330.50,183.30 C333.05,183.17 335.65,183.17 338.20,183.30 C340.75,183.43 343.25,183.88 345.80,184.10 C348.35,184.32 350.95,184.52 353.50,184.60 C356.05,184.68 358.35,184.47 361.10,184.60 C363.85,184.73 367.03,185.25 370.00,185.40 C372.97,185.55 375.45,185.55 378.90,185.50 C382.35,185.45 386.77,185.10 390.70,185.10 C394.63,185.10 398.55,185.35 402.50,185.50 C406.45,185.65 410.45,185.80 414.40,186.00 C418.35,186.20 422.27,186.47 426.20,186.70 C430.13,186.93 435.03,187.25 438.00,187.40 C440.97,187.55 441.63,187.55 444.00,187.60 C446.37,187.65 449.27,187.77 452.20,187.70 C455.13,187.63 458.07,187.37 461.60,187.20 C465.13,187.03 470.33,186.75 473.40,186.70 C476.47,186.65 477.33,186.80 480.00,186.90 C482.67,187.00 486.27,187.05 489.40,187.30 C492.53,187.55 495.68,188.00 498.80,188.40 C501.92,188.80 504.98,189.63 508.10,189.70 C511.22,189.77 514.37,189.20 517.50,188.80 C520.63,188.40 523.90,187.62 526.90,187.30 C529.90,186.98 534.07,186.97 535.50,186.90 L535.5,195.6 L307.5,195.6 Z" fill="#0000ef"/>
<path d="M307.50,55.50 C307.55,55.25 307.60,55.32 307.80,54.00 C308.00,52.68 308.40,49.60 308.70,47.60 C309.00,45.60 309.28,43.70 309.60,42.00 C309.92,40.30 310.22,38.78 310.60,37.40 C310.98,36.02 311.28,34.78 311.90,33.70 C312.52,32.62 313.28,31.83 314.30,30.90 C315.32,29.97 316.93,28.95 318.00,28.10 C319.07,27.25 319.78,26.42 320.70,25.80 C321.62,25.18 322.42,24.48 323.50,24.40 C324.58,24.32 325.97,24.98 327.20,25.30 C328.43,25.62 329.82,26.30 330.90,26.30 C331.98,26.30 332.92,25.92 333.70,25.30 C334.48,24.68 335.13,23.38 335.60,22.60 C336.07,21.82 336.35,20.93 336.50,20.60 L306.5,19.6 Z" fill="#f78a8a"/>
<path d="M431.30,20.60 C431.65,21.63 432.58,24.37 433.40,26.80 C434.22,29.23 435.15,32.40 436.20,35.20 C437.25,38.00 438.65,41.85 439.70,43.60 C440.75,45.35 441.33,45.23 442.50,45.70 C443.67,46.17 445.42,45.47 446.70,46.40 C447.98,47.33 449.15,49.20 450.20,51.30 C451.25,53.40 451.95,56.43 453.00,59.00 C454.05,61.57 455.33,64.72 456.50,66.70 C457.67,68.68 458.72,70.20 460.00,70.90 C461.28,71.60 462.80,71.05 464.20,70.90 C465.60,70.75 467.00,70.23 468.40,70.00 C469.80,69.77 471.32,69.38 472.60,69.50 C473.88,69.62 474.70,69.53 476.10,70.70 C477.50,71.87 479.27,74.32 481.00,76.50 C482.73,78.68 484.98,81.37 486.50,83.80 C488.02,86.23 488.88,88.65 490.10,91.10 C491.32,93.55 492.57,96.20 493.80,98.50 C495.03,100.80 496.28,103.23 497.50,104.90 C498.72,106.57 499.88,107.80 501.10,108.50 C502.32,109.20 503.58,109.55 504.80,109.10 C506.02,108.65 507.33,107.12 508.40,105.80 C509.47,104.48 510.28,102.05 511.20,101.20 C512.12,100.35 513.07,101.15 513.90,100.70 C514.73,100.25 515.62,99.78 516.20,98.50 C516.78,97.22 516.87,94.53 517.40,93.00 C517.93,91.47 518.13,90.17 519.40,89.30 C520.67,88.43 522.32,88.10 525.00,87.80 C527.68,87.50 533.75,87.55 535.50,87.50 L536.5,19.6 Z" fill="#f78a8a"/>
<path d="M495.40,20.60 C495.52,21.87 495.87,25.30 496.10,28.20 C496.33,31.10 496.45,34.50 496.80,38.00 C497.15,41.50 497.50,46.38 498.20,49.20 C498.90,52.02 499.95,53.72 501.00,54.90 C502.05,56.08 503.33,55.60 504.50,56.30 C505.67,57.00 506.72,57.88 508.00,59.10 C509.28,60.32 510.55,62.45 512.20,63.60 C513.85,64.75 516.02,65.50 517.90,66.00 C519.78,66.50 521.63,66.50 523.50,66.60 C525.37,66.70 527.10,66.67 529.10,66.60 C531.10,66.53 534.43,66.27 535.50,66.20 L536.5,19.6 Z" fill="#f24242"/>
<path d="M505.90,20.60 C506.08,21.50 506.65,24.38 507.00,26.00 C507.35,27.62 507.67,30.13 508.00,30.30 C508.33,30.47 508.65,28.05 509.00,27.00 C509.35,25.95 509.33,24.62 510.10,24.00 C510.87,23.38 512.42,23.65 513.60,23.30 C514.78,22.95 516.25,22.35 517.20,21.90 C518.15,21.45 518.95,20.82 519.30,20.60 Z" fill="#f78a8a"/>
<path d="M307.50,190.80 C308.37,190.37 311.20,189.07 312.70,188.20 C314.20,187.33 314.80,186.28 316.50,185.60 C318.20,184.92 320.57,184.48 322.90,184.10 C325.23,183.72 327.95,183.43 330.50,183.30 C333.05,183.17 335.65,183.17 338.20,183.30 C340.75,183.43 343.25,183.88 345.80,184.10 C348.35,184.32 350.95,184.52 353.50,184.60 C356.05,184.68 358.35,184.47 361.10,184.60 C363.85,184.73 367.03,185.25 370.00,185.40 C372.97,185.55 375.45,185.55 378.90,185.50 C382.35,185.45 386.77,185.10 390.70,185.10 C394.63,185.10 398.55,185.35 402.50,185.50 C406.45,185.65 410.45,185.80 414.40,186.00 C418.35,186.20 422.27,186.47 426.20,186.70 C430.13,186.93 435.03,187.25 438.00,187.40 C440.97,187.55 441.63,187.55 444.00,187.60 C446.37,187.65 449.27,187.77 452.20,187.70 C455.13,187.63 458.07,187.37 461.60,187.20 C465.13,187.03 470.33,186.75 473.40,186.70 C476.47,186.65 477.33,186.80 480.00,186.90 C482.67,187.00 486.27,187.05 489.40,187.30 C492.53,187.55 495.68,188.00 498.80,188.40 C501.92,188.80 504.98,189.63 508.10,189.70 C511.22,189.77 514.37,189.20 517.50,188.80 C520.63,188.40 523.90,187.62 526.90,187.30 C529.90,186.98 534.07,186.97 535.50,186.90" fill="none" stroke="#2e2838" stroke-width="1.25" stroke-linejoin="round"/>
<path d="M307.50,165.50 C308.17,165.25 310.00,164.78 311.50,164.00 C313.00,163.22 315.02,161.55 316.50,160.80 C317.98,160.05 318.90,159.77 320.40,159.50 C321.90,159.23 323.38,159.25 325.50,159.20 C327.62,159.15 330.57,159.15 333.10,159.20 C335.63,159.25 338.80,159.30 340.70,159.50 C342.60,159.70 343.22,160.03 344.50,160.40 C345.78,160.77 346.70,161.32 348.40,161.70 C350.10,162.08 352.80,162.57 354.70,162.70 C356.60,162.83 358.32,162.38 359.80,162.50 C361.28,162.62 362.32,162.93 363.60,163.40 C364.88,163.87 366.33,164.87 367.50,165.30 C368.67,165.73 369.15,165.65 370.60,166.00 C372.05,166.35 374.33,167.12 376.20,167.40 C378.07,167.68 379.70,167.82 381.80,167.70 C383.90,167.58 386.47,167.02 388.80,166.70 C391.13,166.38 393.70,165.87 395.80,165.80 C397.90,165.73 399.53,166.03 401.40,166.30 C403.27,166.57 405.13,167.17 407.00,167.40 C408.87,167.63 410.73,167.73 412.60,167.70 C414.47,167.67 416.33,167.20 418.20,167.20 C420.07,167.20 421.50,167.55 423.80,167.70 C426.10,167.85 429.47,167.92 432.00,168.10 C434.53,168.28 436.90,168.65 439.00,168.80 C441.10,168.95 442.62,168.88 444.60,169.00 C446.58,169.12 448.80,169.30 450.90,169.50 C453.00,169.70 455.22,170.03 457.20,170.20 C459.18,170.37 460.70,170.62 462.80,170.50 C464.90,170.38 467.70,169.78 469.80,169.50 C471.90,169.22 473.07,168.80 475.40,168.80 C477.73,168.80 481.78,169.05 483.80,169.50 C485.82,169.95 485.63,170.85 487.50,171.50 C489.37,172.15 492.50,172.87 495.00,173.40 C497.50,173.93 500.32,174.33 502.50,174.70 C504.68,175.07 506.22,175.60 508.10,175.60 C509.98,175.60 511.60,175.17 513.80,174.70 C516.00,174.23 518.80,173.43 521.30,172.80 C523.80,172.17 526.43,171.30 528.80,170.90 C531.17,170.50 534.38,170.48 535.50,170.40" fill="none" stroke="#2e2838" stroke-width="1.25" stroke-linejoin="round"/>
<path d="M307.50,145.90 C308.42,145.17 311.07,143.12 313.00,141.50 C314.93,139.88 317.05,137.53 319.10,136.20 C321.15,134.87 323.08,133.95 325.30,133.50 C327.52,133.05 330.48,133.05 332.40,133.50 C334.32,133.95 335.18,135.52 336.80,136.20 C338.42,136.88 340.33,137.07 342.10,137.60 C343.87,138.13 345.63,138.90 347.40,139.40 C349.17,139.90 350.93,140.25 352.70,140.60 C354.47,140.95 356.23,141.20 358.00,141.50 C359.77,141.80 361.20,141.93 363.30,142.40 C365.40,142.87 368.45,143.63 370.60,144.30 C372.75,144.97 374.33,145.93 376.20,146.40 C378.07,146.87 379.93,147.22 381.80,147.10 C383.67,146.98 385.53,146.28 387.40,145.70 C389.27,145.12 391.37,144.00 393.00,143.60 C394.63,143.20 395.57,143.12 397.20,143.30 C398.83,143.48 400.93,144.13 402.80,144.70 C404.67,145.27 406.77,146.23 408.40,146.70 C410.03,147.17 410.97,147.55 412.60,147.50 C414.23,147.45 416.33,146.82 418.20,146.40 C420.07,145.98 421.97,145.35 423.80,145.00 C425.63,144.65 427.60,144.30 429.20,144.30 C430.80,144.30 431.77,144.83 433.40,145.00 C435.03,145.17 437.13,145.02 439.00,145.30 C440.87,145.58 442.73,146.05 444.60,146.70 C446.47,147.35 448.80,148.48 450.20,149.20 C451.60,149.92 451.60,150.62 453.00,151.00 C454.40,151.38 456.62,151.45 458.60,151.50 C460.58,151.55 463.03,151.68 464.90,151.30 C466.77,150.92 468.28,149.67 469.80,149.20 C471.32,148.73 472.37,148.50 474.00,148.50 C475.63,148.50 477.73,148.85 479.60,149.20 C481.47,149.55 483.88,150.10 485.20,150.60 C486.52,151.10 485.87,151.32 487.50,152.20 C489.13,153.08 492.50,154.75 495.00,155.90 C497.50,157.05 500.32,158.32 502.50,159.10 C504.68,159.88 506.22,160.50 508.10,160.60 C509.98,160.70 511.92,160.25 513.80,159.70 C515.68,159.15 517.53,158.15 519.40,157.30 C521.27,156.45 523.13,155.23 525.00,154.60 C526.87,153.97 528.85,153.68 530.60,153.50 C532.35,153.32 534.68,153.50 535.50,153.50" fill="none" stroke="#2e2838" stroke-width="1.25" stroke-linejoin="round"/>
<path d="M307.50,128.50 C307.83,128.25 308.98,127.58 309.50,127.00 C310.02,126.42 310.07,126.83 310.60,125.00 C311.13,123.17 312.00,119.83 312.70,116.00 C313.40,112.17 314.10,106.67 314.80,102.00 C315.50,97.33 316.32,91.73 316.90,88.00 C317.48,84.27 317.72,82.05 318.30,79.60 C318.88,77.15 319.70,75.17 320.40,73.30 C321.10,71.43 321.68,69.62 322.50,68.40 C323.32,67.18 324.37,66.00 325.30,66.00 C326.23,66.00 327.17,66.83 328.10,68.40 C329.03,69.97 329.85,73.07 330.90,75.40 C331.95,77.73 333.12,80.65 334.40,82.40 C335.68,84.15 337.43,84.73 338.60,85.90 C339.77,87.07 340.47,87.65 341.40,89.40 C342.33,91.15 343.27,94.07 344.20,96.40 C345.13,98.73 345.83,101.53 347.00,103.40 C348.17,105.27 350.03,106.67 351.20,107.60 C352.37,108.53 352.83,109.00 354.00,109.00 C355.17,109.00 356.80,107.95 358.20,107.60 C359.60,107.25 361.00,106.97 362.40,106.90 C363.80,106.83 365.23,107.32 366.60,107.20 C367.97,107.08 369.35,106.02 370.60,106.20 C371.85,106.38 372.98,107.25 374.10,108.30 C375.22,109.35 376.48,111.05 377.30,112.50 C378.12,113.95 378.37,115.32 379.00,117.00 C379.63,118.68 380.28,121.25 381.10,122.60 C381.92,123.95 383.00,125.10 383.90,125.10 C384.80,125.10 385.92,124.18 386.50,122.60 C387.08,121.02 387.25,119.03 387.40,115.60 C387.55,112.17 387.28,105.90 387.40,102.00 C387.52,98.10 387.63,94.77 388.10,92.20 C388.57,89.63 389.38,87.77 390.20,86.60 C391.02,85.43 391.95,85.20 393.00,85.20 C394.05,85.20 395.33,86.02 396.50,86.60 C397.67,87.18 398.42,87.97 400.00,88.70 C401.58,89.43 404.17,90.07 406.00,91.00 C407.83,91.93 410.13,92.47 411.00,94.30 C411.87,96.13 411.33,98.85 411.20,102.00 C411.07,105.15 410.35,110.00 410.20,113.20 C410.05,116.40 409.90,119.28 410.30,121.20 C410.70,123.12 411.87,124.70 412.60,124.70 C413.33,124.70 414.23,122.72 414.70,121.20 C415.17,119.68 415.28,118.57 415.40,115.60 C415.52,112.63 415.25,105.90 415.40,103.40 C415.55,100.90 415.95,100.83 416.30,100.60 C416.65,100.37 416.95,101.10 417.50,102.00 C418.05,102.90 418.90,105.77 419.60,106.00 C420.30,106.23 421.05,104.77 421.70,103.40 C422.35,102.03 422.72,99.82 423.50,97.80 C424.28,95.78 425.42,92.85 426.40,91.30 C427.38,89.75 428.30,89.03 429.40,88.50 C430.50,87.97 431.82,87.97 433.00,88.10 C434.18,88.23 435.52,88.67 436.50,89.30 C437.48,89.93 438.30,90.48 438.90,91.90 C439.50,93.32 439.52,95.83 440.10,97.80 C440.68,99.77 441.62,101.72 442.40,103.70 C443.18,105.68 444.00,107.72 444.80,109.70 C445.60,111.68 446.40,113.43 447.20,115.60 C448.00,117.77 448.80,120.82 449.60,122.70 C450.40,124.58 451.35,125.97 452.00,126.90 C452.65,127.83 452.40,127.98 453.50,128.30 C454.60,128.62 456.70,128.82 458.60,128.80 C460.50,128.78 463.03,128.65 464.90,128.20 C466.77,127.75 468.28,126.80 469.80,126.10 C471.32,125.40 472.60,124.47 474.00,124.00 C475.40,123.53 476.80,123.07 478.20,123.30 C479.60,123.53 481.05,124.53 482.40,125.40 C483.75,126.27 484.82,127.32 486.30,128.50 C487.78,129.68 489.53,131.05 491.30,132.50 C493.07,133.95 495.03,135.95 496.90,137.20 C498.77,138.45 500.63,139.28 502.50,140.00 C504.37,140.72 506.22,141.50 508.10,141.50 C509.98,141.50 511.92,140.72 513.80,140.00 C515.68,139.28 517.53,138.13 519.40,137.20 C521.27,136.27 523.13,135.03 525.00,134.40 C526.87,133.77 528.85,133.50 530.60,133.40 C532.35,133.30 534.68,133.73 535.50,133.80" fill="none" stroke="#2e2838" stroke-width="1.25" stroke-linejoin="round"/>
<path d="M307.50,55.50 C307.55,55.25 307.60,55.32 307.80,54.00 C308.00,52.68 308.40,49.60 308.70,47.60 C309.00,45.60 309.28,43.70 309.60,42.00 C309.92,40.30 310.22,38.78 310.60,37.40 C310.98,36.02 311.28,34.78 311.90,33.70 C312.52,32.62 313.28,31.83 314.30,30.90 C315.32,29.97 316.93,28.95 318.00,28.10 C319.07,27.25 319.78,26.42 320.70,25.80 C321.62,25.18 322.42,24.48 323.50,24.40 C324.58,24.32 325.97,24.98 327.20,25.30 C328.43,25.62 329.82,26.30 330.90,26.30 C331.98,26.30 332.92,25.92 333.70,25.30 C334.48,24.68 335.13,23.38 335.60,22.60 C336.07,21.82 336.35,20.93 336.50,20.60" fill="none" stroke="#2e2838" stroke-width="1.25" stroke-linejoin="round"/>
<path d="M431.30,20.60 C431.65,21.63 432.58,24.37 433.40,26.80 C434.22,29.23 435.15,32.40 436.20,35.20 C437.25,38.00 438.65,41.85 439.70,43.60 C440.75,45.35 441.33,45.23 442.50,45.70 C443.67,46.17 445.42,45.47 446.70,46.40 C447.98,47.33 449.15,49.20 450.20,51.30 C451.25,53.40 451.95,56.43 453.00,59.00 C454.05,61.57 455.33,64.72 456.50,66.70 C457.67,68.68 458.72,70.20 460.00,70.90 C461.28,71.60 462.80,71.05 464.20,70.90 C465.60,70.75 467.00,70.23 468.40,70.00 C469.80,69.77 471.32,69.38 472.60,69.50 C473.88,69.62 474.70,69.53 476.10,70.70 C477.50,71.87 479.27,74.32 481.00,76.50 C482.73,78.68 484.98,81.37 486.50,83.80 C488.02,86.23 488.88,88.65 490.10,91.10 C491.32,93.55 492.57,96.20 493.80,98.50 C495.03,100.80 496.28,103.23 497.50,104.90 C498.72,106.57 499.88,107.80 501.10,108.50 C502.32,109.20 503.58,109.55 504.80,109.10 C506.02,108.65 507.33,107.12 508.40,105.80 C509.47,104.48 510.28,102.05 511.20,101.20 C512.12,100.35 513.07,101.15 513.90,100.70 C514.73,100.25 515.62,99.78 516.20,98.50 C516.78,97.22 516.87,94.53 517.40,93.00 C517.93,91.47 518.13,90.17 519.40,89.30 C520.67,88.43 522.32,88.10 525.00,87.80 C527.68,87.50 533.75,87.55 535.50,87.50" fill="none" stroke="#2e2838" stroke-width="1.25" stroke-linejoin="round"/>
<path d="M495.40,20.60 C495.52,21.87 495.87,25.30 496.10,28.20 C496.33,31.10 496.45,34.50 496.80,38.00 C497.15,41.50 497.50,46.38 498.20,49.20 C498.90,52.02 499.95,53.72 501.00,54.90 C502.05,56.08 503.33,55.60 504.50,56.30 C505.67,57.00 506.72,57.88 508.00,59.10 C509.28,60.32 510.55,62.45 512.20,63.60 C513.85,64.75 516.02,65.50 517.90,66.00 C519.78,66.50 521.63,66.50 523.50,66.60 C525.37,66.70 527.10,66.67 529.10,66.60 C531.10,66.53 534.43,66.27 535.50,66.20" fill="none" stroke="#2e2838" stroke-width="1.25" stroke-linejoin="round"/>
<path d="M505.90,20.60 C506.08,21.50 506.65,24.38 507.00,26.00 C507.35,27.62 507.67,30.13 508.00,30.30 C508.33,30.47 508.65,28.05 509.00,27.00 C509.35,25.95 509.33,24.62 510.10,24.00 C510.87,23.38 512.42,23.65 513.60,23.30 C514.78,22.95 516.25,22.35 517.20,21.90 C518.15,21.45 518.95,20.82 519.30,20.60" fill="none" stroke="#2e2838" stroke-width="1.25" stroke-linejoin="round"/>
</g>
<rect x="194.9" y="25.8" width="11.8" height="7.9" fill="#fff"/>
<text x="200.8" y="32.7" font-size="8.3" font-weight="bold" text-anchor="middle" fill="#000">0.1</text>
<rect x="201.6" y="61.8" width="11.8" height="7.9" fill="#fff"/>
<text x="207.5" y="68.8" font-size="8.3" font-weight="bold" text-anchor="middle" fill="#000">0.3</text>
<rect x="201.6" y="72.0" width="11.8" height="7.9" fill="#fff"/>
<text x="207.5" y="79.0" font-size="8.3" font-weight="bold" text-anchor="middle" fill="#000">0.4</text>
<rect x="201.6" y="82.0" width="11.8" height="7.9" fill="#fff"/>
<text x="207.5" y="89.0" font-size="8.3" font-weight="bold" text-anchor="middle" fill="#000">0.5</text>
<rect x="187.8" y="122.2" width="11.8" height="7.9" fill="#fff"/>
<text x="193.7" y="129.2" font-size="8.3" font-weight="bold" text-anchor="middle" fill="#000">0.6</text>
<rect x="187.8" y="136.2" width="11.8" height="7.9" fill="#fff"/>
<text x="193.7" y="143.2" font-size="8.3" font-weight="bold" text-anchor="middle" fill="#000">0.7</text>
<rect x="187.8" y="150.2" width="11.8" height="7.9" fill="#fff"/>
<text x="193.7" y="157.2" font-size="8.3" font-weight="bold" text-anchor="middle" fill="#000">0.8</text>
<rect x="187.7" y="168.5" width="11.8" height="7.9" fill="#fff"/>
<text x="193.6" y="175.4" font-size="8.3" font-weight="bold" text-anchor="middle" fill="#000">0.9</text>
<rect x="51.1" y="86.8" width="11.8" height="7.9" fill="#fff"/>
<text x="57.0" y="93.7" font-size="8.3" font-weight="bold" text-anchor="middle" fill="#000">0.7</text>
<rect x="79.1" y="84.0" width="11.8" height="7.9" fill="#fff"/>
<text x="85.0" y="91.0" font-size="8.3" font-weight="bold" text-anchor="middle" fill="#000">0.6</text>
<rect x="58.1" y="128.1" width="11.8" height="7.9" fill="#fff"/>
<text x="64.0" y="135.0" font-size="8.3" font-weight="bold" text-anchor="middle" fill="#000">0.8</text>
<rect x="58.1" y="150.8" width="11.8" height="7.9" fill="#fff"/>
<text x="64.0" y="157.7" font-size="8.3" font-weight="bold" text-anchor="middle" fill="#000">0.9</text>
<rect x="319.4" y="60.0" width="11.8" height="7.9" fill="#fff"/>
<text x="325.3" y="67.0" font-size="8.3" font-weight="bold" text-anchor="middle" fill="#000">0.8</text>
<rect x="319.4" y="128.2" width="11.8" height="7.9" fill="#fff"/>
<text x="325.3" y="135.2" font-size="8.3" font-weight="bold" text-anchor="middle" fill="#000">0.6</text>
<rect x="400.1" y="86.0" width="11.8" height="7.9" fill="#fff"/>
<text x="406.0" y="93.0" font-size="8.3" font-weight="bold" text-anchor="middle" fill="#000">0.8</text>
<rect x="470.0" y="65.2" width="5.2" height="7.9" fill="#fff"/>
<text x="472.6" y="72.2" font-size="8.3" font-weight="bold" text-anchor="middle" fill="#000">1</text>
<rect x="452.7" y="127.4" width="11.8" height="7.9" fill="#fff"/>
<text x="458.6" y="134.3" font-size="8.3" font-weight="bold" text-anchor="middle" fill="#000">0.8</text>
<rect x="452.7" y="149.1" width="11.8" height="7.9" fill="#fff"/>
<text x="458.6" y="156.0" font-size="8.3" font-weight="bold" text-anchor="middle" fill="#000">0.6</text>
<rect x="438.7" y="164.6" width="11.8" height="7.9" fill="#fff"/>
<text x="444.6" y="171.5" font-size="8.3" font-weight="bold" text-anchor="middle" fill="#000">0.4</text>
<rect x="438.1" y="183.2" width="11.8" height="7.9" fill="#fff"/>
<text x="444.0" y="190.2" font-size="8.3" font-weight="bold" text-anchor="middle" fill="#000">0.2</text>
<rect x="39.3" y="20.6" width="228.2" height="174.0" fill="none" stroke="#111" stroke-width="1.3"/>
<line x1="35.7" y1="194.6" x2="39.3" y2="194.6" stroke="#111" stroke-width="1.1"/>
<text x="32.7" y="199.0" font-size="11.5" text-anchor="end" fill="#111" stroke="#111" stroke-width="0.2">0</text>
<line x1="35.7" y1="159.8" x2="39.3" y2="159.8" stroke="#111" stroke-width="1.1"/>
<text x="32.7" y="164.2" font-size="11.5" text-anchor="end" fill="#111" stroke="#111" stroke-width="0.2">1</text>
<line x1="35.7" y1="125.0" x2="39.3" y2="125.0" stroke="#111" stroke-width="1.1"/>
<text x="32.7" y="129.4" font-size="11.5" text-anchor="end" fill="#111" stroke="#111" stroke-width="0.2">2</text>
<line x1="35.7" y1="90.2" x2="39.3" y2="90.2" stroke="#111" stroke-width="1.1"/>
<text x="32.7" y="94.6" font-size="11.5" text-anchor="end" fill="#111" stroke="#111" stroke-width="0.2">3</text>
<line x1="35.7" y1="55.4" x2="39.3" y2="55.4" stroke="#111" stroke-width="1.1"/>
<text x="32.7" y="59.8" font-size="11.5" text-anchor="end" fill="#111" stroke="#111" stroke-width="0.2">4</text>
<line x1="35.7" y1="20.6" x2="39.3" y2="20.6" stroke="#111" stroke-width="1.1"/>
<text x="32.7" y="25.0" font-size="11.5" text-anchor="end" fill="#111" stroke="#111" stroke-width="0.2">5</text>
<line x1="39.3" y1="194.6" x2="39.3" y2="198.2" stroke="#111" stroke-width="1.1"/>
<text x="39.6" y="208.8" font-size="11.5" text-anchor="middle" fill="#111" stroke="#111" stroke-width="0.2" textLength="25" lengthAdjust="spacingAndGlyphs">1950</text>
<line x1="37.8" y1="221.1" x2="40.2" y2="216.5" stroke="#1a1a1a" stroke-width="1.3" stroke-linecap="round"/>
<text x="31.9" y="234.0" font-size="11.5" text-anchor="middle" fill="#111" stroke="#111" stroke-width="0.2" textLength="25" lengthAdjust="spacingAndGlyphs">1900</text>
<line x1="74.4" y1="194.6" x2="74.4" y2="198.2" stroke="#111" stroke-width="1.1"/>
<text x="74.7" y="208.8" font-size="11.5" text-anchor="middle" fill="#111" stroke="#111" stroke-width="0.2" textLength="25" lengthAdjust="spacingAndGlyphs">1960</text>
<line x1="72.9" y1="221.1" x2="75.3" y2="216.5" stroke="#1a1a1a" stroke-width="1.3" stroke-linecap="round"/>
<text x="67.0" y="234.0" font-size="11.5" text-anchor="middle" fill="#111" stroke="#111" stroke-width="0.2" textLength="25" lengthAdjust="spacingAndGlyphs">1910</text>
<line x1="109.5" y1="194.6" x2="109.5" y2="198.2" stroke="#111" stroke-width="1.1"/>
<text x="109.8" y="208.8" font-size="11.5" text-anchor="middle" fill="#111" stroke="#111" stroke-width="0.2" textLength="25" lengthAdjust="spacingAndGlyphs">1970</text>
<line x1="108.0" y1="221.1" x2="110.4" y2="216.5" stroke="#1a1a1a" stroke-width="1.3" stroke-linecap="round"/>
<text x="102.1" y="234.0" font-size="11.5" text-anchor="middle" fill="#111" stroke="#111" stroke-width="0.2" textLength="25" lengthAdjust="spacingAndGlyphs">1920</text>
<line x1="144.6" y1="194.6" x2="144.6" y2="198.2" stroke="#111" stroke-width="1.1"/>
<text x="144.9" y="208.8" font-size="11.5" text-anchor="middle" fill="#111" stroke="#111" stroke-width="0.2" textLength="25" lengthAdjust="spacingAndGlyphs">1980</text>
<line x1="143.1" y1="221.1" x2="145.5" y2="216.5" stroke="#1a1a1a" stroke-width="1.3" stroke-linecap="round"/>
<text x="137.2" y="234.0" font-size="11.5" text-anchor="middle" fill="#111" stroke="#111" stroke-width="0.2" textLength="25" lengthAdjust="spacingAndGlyphs">1930</text>
<line x1="179.7" y1="194.6" x2="179.7" y2="198.2" stroke="#111" stroke-width="1.1"/>
<text x="180.0" y="208.8" font-size="11.5" text-anchor="middle" fill="#111" stroke="#111" stroke-width="0.2" textLength="25" lengthAdjust="spacingAndGlyphs">1990</text>
<line x1="178.2" y1="221.1" x2="180.6" y2="216.5" stroke="#1a1a1a" stroke-width="1.3" stroke-linecap="round"/>
<text x="172.3" y="234.0" font-size="11.5" text-anchor="middle" fill="#111" stroke="#111" stroke-width="0.2" textLength="25" lengthAdjust="spacingAndGlyphs">1940</text>
<line x1="214.8" y1="194.6" x2="214.8" y2="198.2" stroke="#111" stroke-width="1.1"/>
<text x="215.1" y="208.8" font-size="11.5" text-anchor="middle" fill="#111" stroke="#111" stroke-width="0.2" textLength="25" lengthAdjust="spacingAndGlyphs">2000</text>
<line x1="213.3" y1="221.1" x2="215.7" y2="216.5" stroke="#1a1a1a" stroke-width="1.3" stroke-linecap="round"/>
<text x="207.4" y="234.0" font-size="11.5" text-anchor="middle" fill="#111" stroke="#111" stroke-width="0.2" textLength="25" lengthAdjust="spacingAndGlyphs">1950</text>
<line x1="249.9" y1="194.6" x2="249.9" y2="198.2" stroke="#111" stroke-width="1.1"/>
<text x="250.2" y="208.8" font-size="11.5" text-anchor="middle" fill="#111" stroke="#111" stroke-width="0.2" textLength="25" lengthAdjust="spacingAndGlyphs">2010</text>
<line x1="248.4" y1="221.1" x2="250.8" y2="216.5" stroke="#1a1a1a" stroke-width="1.3" stroke-linecap="round"/>
<text x="242.5" y="234.0" font-size="11.5" text-anchor="middle" fill="#111" stroke="#111" stroke-width="0.2" textLength="25" lengthAdjust="spacingAndGlyphs">1960</text>
<rect x="307.5" y="20.6" width="228.0" height="174.0" fill="none" stroke="#111" stroke-width="1.3"/>
<line x1="303.9" y1="194.6" x2="307.5" y2="194.6" stroke="#111" stroke-width="1.1"/>
<text x="300.9" y="199.0" font-size="11.5" text-anchor="end" fill="#111" stroke="#111" stroke-width="0.2">0</text>
<line x1="303.9" y1="159.8" x2="307.5" y2="159.8" stroke="#111" stroke-width="1.1"/>
<text x="300.9" y="164.2" font-size="11.5" text-anchor="end" fill="#111" stroke="#111" stroke-width="0.2">1</text>
<line x1="303.9" y1="125.0" x2="307.5" y2="125.0" stroke="#111" stroke-width="1.1"/>
<text x="300.9" y="129.4" font-size="11.5" text-anchor="end" fill="#111" stroke="#111" stroke-width="0.2">2</text>
<line x1="303.9" y1="90.2" x2="307.5" y2="90.2" stroke="#111" stroke-width="1.1"/>
<text x="300.9" y="94.6" font-size="11.5" text-anchor="end" fill="#111" stroke="#111" stroke-width="0.2">3</text>
<line x1="303.9" y1="55.4" x2="307.5" y2="55.4" stroke="#111" stroke-width="1.1"/>
<text x="300.9" y="59.8" font-size="11.5" text-anchor="end" fill="#111" stroke="#111" stroke-width="0.2">4</text>
<line x1="303.9" y1="20.6" x2="307.5" y2="20.6" stroke="#111" stroke-width="1.1"/>
<text x="300.9" y="25.0" font-size="11.5" text-anchor="end" fill="#111" stroke="#111" stroke-width="0.2">5</text>
<line x1="307.5" y1="194.6" x2="307.5" y2="198.2" stroke="#111" stroke-width="1.1"/>
<text x="307.8" y="208.8" font-size="11.5" text-anchor="middle" fill="#111" stroke="#111" stroke-width="0.2" textLength="25" lengthAdjust="spacingAndGlyphs">1950</text>
<line x1="306.0" y1="221.1" x2="308.4" y2="216.5" stroke="#1a1a1a" stroke-width="1.3" stroke-linecap="round"/>
<text x="300.1" y="234.0" font-size="11.5" text-anchor="middle" fill="#111" stroke="#111" stroke-width="0.2" textLength="25" lengthAdjust="spacingAndGlyphs">1900</text>
<line x1="342.6" y1="194.6" x2="342.6" y2="198.2" stroke="#111" stroke-width="1.1"/>
<text x="342.9" y="208.8" font-size="11.5" text-anchor="middle" fill="#111" stroke="#111" stroke-width="0.2" textLength="25" lengthAdjust="spacingAndGlyphs">1960</text>
<line x1="341.1" y1="221.1" x2="343.5" y2="216.5" stroke="#1a1a1a" stroke-width="1.3" stroke-linecap="round"/>
<text x="335.2" y="234.0" font-size="11.5" text-anchor="middle" fill="#111" stroke="#111" stroke-width="0.2" textLength="25" lengthAdjust="spacingAndGlyphs">1910</text>
<line x1="377.7" y1="194.6" x2="377.7" y2="198.2" stroke="#111" stroke-width="1.1"/>
<text x="378.0" y="208.8" font-size="11.5" text-anchor="middle" fill="#111" stroke="#111" stroke-width="0.2" textLength="25" lengthAdjust="spacingAndGlyphs">1970</text>
<line x1="376.2" y1="221.1" x2="378.6" y2="216.5" stroke="#1a1a1a" stroke-width="1.3" stroke-linecap="round"/>
<text x="370.3" y="234.0" font-size="11.5" text-anchor="middle" fill="#111" stroke="#111" stroke-width="0.2" textLength="25" lengthAdjust="spacingAndGlyphs">1920</text>
<line x1="412.7" y1="194.6" x2="412.7" y2="198.2" stroke="#111" stroke-width="1.1"/>
<text x="413.0" y="208.8" font-size="11.5" text-anchor="middle" fill="#111" stroke="#111" stroke-width="0.2" textLength="25" lengthAdjust="spacingAndGlyphs">1980</text>
<line x1="411.2" y1="221.1" x2="413.6" y2="216.5" stroke="#1a1a1a" stroke-width="1.3" stroke-linecap="round"/>
<text x="405.3" y="234.0" font-size="11.5" text-anchor="middle" fill="#111" stroke="#111" stroke-width="0.2" textLength="25" lengthAdjust="spacingAndGlyphs">1930</text>
<line x1="447.8" y1="194.6" x2="447.8" y2="198.2" stroke="#111" stroke-width="1.1"/>
<text x="448.1" y="208.8" font-size="11.5" text-anchor="middle" fill="#111" stroke="#111" stroke-width="0.2" textLength="25" lengthAdjust="spacingAndGlyphs">1990</text>
<line x1="446.3" y1="221.1" x2="448.7" y2="216.5" stroke="#1a1a1a" stroke-width="1.3" stroke-linecap="round"/>
<text x="440.4" y="234.0" font-size="11.5" text-anchor="middle" fill="#111" stroke="#111" stroke-width="0.2" textLength="25" lengthAdjust="spacingAndGlyphs">1940</text>
<line x1="482.9" y1="194.6" x2="482.9" y2="198.2" stroke="#111" stroke-width="1.1"/>
<text x="483.2" y="208.8" font-size="11.5" text-anchor="middle" fill="#111" stroke="#111" stroke-width="0.2" textLength="25" lengthAdjust="spacingAndGlyphs">2000</text>
<line x1="481.4" y1="221.1" x2="483.8" y2="216.5" stroke="#1a1a1a" stroke-width="1.3" stroke-linecap="round"/>
<text x="475.5" y="234.0" font-size="11.5" text-anchor="middle" fill="#111" stroke="#111" stroke-width="0.2" textLength="25" lengthAdjust="spacingAndGlyphs">1950</text>
<line x1="518.0" y1="194.6" x2="518.0" y2="198.2" stroke="#111" stroke-width="1.1"/>
<text x="518.3" y="208.8" font-size="11.5" text-anchor="middle" fill="#111" stroke="#111" stroke-width="0.2" textLength="25" lengthAdjust="spacingAndGlyphs">2010</text>
<line x1="516.5" y1="221.1" x2="518.9" y2="216.5" stroke="#1a1a1a" stroke-width="1.3" stroke-linecap="round"/>
<text x="510.6" y="234.0" font-size="11.5" text-anchor="middle" fill="#111" stroke="#111" stroke-width="0.2" textLength="25" lengthAdjust="spacingAndGlyphs">1960</text>
<text x="39.6" y="14.6" font-size="11.3" fill="#1a1a1a" lengthAdjust="spacing" textLength="17.0">(a)</text>
<text x="65.8" y="14.6" font-size="11.3" fill="#1a1a1a" lengthAdjust="spacing" textLength="28.0">ACC,</text>
<text x="101.6" y="14.6" font-size="11.3" fill="#1a1a1a" lengthAdjust="spacing" textLength="75.7">50y&#8211;window</text>
<text x="308.2" y="14.6" font-size="11.3" fill="#1a1a1a" lengthAdjust="spacing" textLength="17.6">(b)</text>
<text x="334.1" y="14.6" font-size="11.3" fill="#1a1a1a" lengthAdjust="spacing" textLength="44.1">SRMSE,</text>
<text x="387.7" y="14.6" font-size="11.3" fill="#1a1a1a" lengthAdjust="spacing" textLength="76.5">50y&#8211;window</text>
<text transform="translate(18.3,110.3) rotate(-90)" font-size="10.8" text-anchor="middle" fill="#1a1a1a" textLength="68" lengthAdjust="spacingAndGlyphs">Lead years</text>
<rect x="42.6" y="260.4" width="216.6" height="166.4" fill="#fff" stroke="#a8a8a8" stroke-width="1"/>
<line x1="42.6" y1="426.8" x2="42.6" y2="424.6" stroke="#a8a8a8" stroke-width="1"/>
<line x1="42.6" y1="260.4" x2="42.6" y2="262.6" stroke="#a8a8a8" stroke-width="1"/>
<text x="42.6" y="442.3" font-size="12" text-anchor="middle" fill="#111">0</text>
<line x1="85.9" y1="426.8" x2="85.9" y2="424.6" stroke="#a8a8a8" stroke-width="1"/>
<line x1="85.9" y1="260.4" x2="85.9" y2="262.6" stroke="#a8a8a8" stroke-width="1"/>
<text x="85.9" y="442.3" font-size="12" text-anchor="middle" fill="#111">1</text>
<line x1="129.2" y1="426.8" x2="129.2" y2="424.6" stroke="#a8a8a8" stroke-width="1"/>
<line x1="129.2" y1="260.4" x2="129.2" y2="262.6" stroke="#a8a8a8" stroke-width="1"/>
<text x="129.2" y="442.3" font-size="12" text-anchor="middle" fill="#111">2</text>
<line x1="172.6" y1="426.8" x2="172.6" y2="424.6" stroke="#a8a8a8" stroke-width="1"/>
<line x1="172.6" y1="260.4" x2="172.6" y2="262.6" stroke="#a8a8a8" stroke-width="1"/>
<text x="172.6" y="442.3" font-size="12" text-anchor="middle" fill="#111">3</text>
<line x1="215.9" y1="426.8" x2="215.9" y2="424.6" stroke="#a8a8a8" stroke-width="1"/>
<line x1="215.9" y1="260.4" x2="215.9" y2="262.6" stroke="#a8a8a8" stroke-width="1"/>
<text x="215.9" y="442.3" font-size="12" text-anchor="middle" fill="#111">4</text>
<line x1="259.2" y1="426.8" x2="259.2" y2="424.6" stroke="#a8a8a8" stroke-width="1"/>
<line x1="259.2" y1="260.4" x2="259.2" y2="262.6" stroke="#a8a8a8" stroke-width="1"/>
<text x="259.2" y="442.3" font-size="12" text-anchor="middle" fill="#111">5</text>
<line x1="42.6" y1="426.8" x2="44.8" y2="426.8" stroke="#a8a8a8" stroke-width="1"/>
<line x1="259.2" y1="426.8" x2="257.0" y2="426.8" stroke="#a8a8a8" stroke-width="1"/>
<text x="38.0" y="431.3" font-size="12" text-anchor="end" fill="#111">-0.5</text>
<line x1="42.6" y1="371.3" x2="44.8" y2="371.3" stroke="#a8a8a8" stroke-width="1"/>
<line x1="259.2" y1="371.3" x2="257.0" y2="371.3" stroke="#a8a8a8" stroke-width="1"/>
<text x="38.0" y="375.8" font-size="12" text-anchor="end" fill="#111">0</text>
<line x1="42.6" y1="315.9" x2="44.8" y2="315.9" stroke="#a8a8a8" stroke-width="1"/>
<line x1="259.2" y1="315.9" x2="257.0" y2="315.9" stroke="#a8a8a8" stroke-width="1"/>
<text x="38.0" y="320.4" font-size="12" text-anchor="end" fill="#111">0.5</text>
<line x1="42.6" y1="260.4" x2="44.8" y2="260.4" stroke="#a8a8a8" stroke-width="1"/>
<line x1="259.2" y1="260.4" x2="257.0" y2="260.4" stroke="#a8a8a8" stroke-width="1"/>
<text x="38.0" y="264.9" font-size="12" text-anchor="end" fill="#111">1</text>
<polyline points="42.6,260.4 85.9,269.5 129.2,288.7 172.6,297.6 215.9,311.8 259.2,327.2" fill="none" stroke="#ff1a1a" stroke-width="1.45" stroke-linejoin="round"/>
<line x1="42.6" y1="260.4" x2="42.6" y2="260.4" stroke="#ff1a1a" stroke-width="1.25"/>
<line x1="41.0" y1="260.4" x2="44.2" y2="260.4" stroke="#ff1a1a" stroke-width="1.4"/>
<line x1="41.0" y1="260.4" x2="44.2" y2="260.4" stroke="#ff1a1a" stroke-width="1.4"/>
<line x1="85.9" y1="272.7" x2="85.9" y2="265.5" stroke="#ff1a1a" stroke-width="1.25"/>
<line x1="84.3" y1="272.7" x2="87.5" y2="272.7" stroke="#ff1a1a" stroke-width="1.4"/>
<line x1="84.3" y1="265.5" x2="87.5" y2="265.5" stroke="#ff1a1a" stroke-width="1.4"/>
<line x1="129.2" y1="300.1" x2="129.2" y2="276.7" stroke="#ff1a1a" stroke-width="1.25"/>
<line x1="127.6" y1="300.1" x2="130.8" y2="300.1" stroke="#ff1a1a" stroke-width="1.4"/>
<line x1="127.6" y1="276.7" x2="130.8" y2="276.7" stroke="#ff1a1a" stroke-width="1.4"/>
<line x1="172.6" y1="319.6" x2="172.6" y2="283.6" stroke="#ff1a1a" stroke-width="1.25"/>
<line x1="171.0" y1="319.6" x2="174.2" y2="319.6" stroke="#ff1a1a" stroke-width="1.4"/>
<line x1="171.0" y1="283.6" x2="174.2" y2="283.6" stroke="#ff1a1a" stroke-width="1.4"/>
<line x1="215.9" y1="331.7" x2="215.9" y2="293.7" stroke="#ff1a1a" stroke-width="1.25"/>
<line x1="214.3" y1="331.7" x2="217.5" y2="331.7" stroke="#ff1a1a" stroke-width="1.4"/>
<line x1="214.3" y1="293.7" x2="217.5" y2="293.7" stroke="#ff1a1a" stroke-width="1.4"/>
<line x1="259.2" y1="346.8" x2="259.2" y2="306.7" stroke="#ff1a1a" stroke-width="1.25"/>
<line x1="257.6" y1="346.8" x2="260.8" y2="346.8" stroke="#ff1a1a" stroke-width="1.4"/>
<line x1="257.6" y1="306.7" x2="260.8" y2="306.7" stroke="#ff1a1a" stroke-width="1.4"/>
<polyline points="42.6,260.4 85.9,283.1 129.2,326.7 172.6,339.8 215.9,391.1 259.2,379.7" fill="none" stroke="#1a1aff" stroke-width="1.45" stroke-linejoin="round"/>
<line x1="42.6" y1="260.4" x2="42.6" y2="260.4" stroke="#1a1aff" stroke-width="1.25"/>
<line x1="41.0" y1="260.4" x2="44.2" y2="260.4" stroke="#1a1aff" stroke-width="1.4"/>
<line x1="41.0" y1="260.4" x2="44.2" y2="260.4" stroke="#1a1aff" stroke-width="1.4"/>
<line x1="85.9" y1="294.1" x2="85.9" y2="275.2" stroke="#1a1aff" stroke-width="1.25"/>
<line x1="84.3" y1="294.1" x2="87.5" y2="294.1" stroke="#1a1aff" stroke-width="1.4"/>
<line x1="84.3" y1="275.2" x2="87.5" y2="275.2" stroke="#1a1aff" stroke-width="1.4"/>
<line x1="129.2" y1="348.0" x2="129.2" y2="304.1" stroke="#1a1aff" stroke-width="1.25"/>
<line x1="127.6" y1="348.0" x2="130.8" y2="348.0" stroke="#1a1aff" stroke-width="1.4"/>
<line x1="127.6" y1="304.1" x2="130.8" y2="304.1" stroke="#1a1aff" stroke-width="1.4"/>
<line x1="172.6" y1="363.5" x2="172.6" y2="312.6" stroke="#1a1aff" stroke-width="1.25"/>
<line x1="171.0" y1="363.5" x2="174.2" y2="363.5" stroke="#1a1aff" stroke-width="1.4"/>
<line x1="171.0" y1="312.6" x2="174.2" y2="312.6" stroke="#1a1aff" stroke-width="1.4"/>
<line x1="215.9" y1="418.3" x2="215.9" y2="351.3" stroke="#1a1aff" stroke-width="1.25"/>
<line x1="214.3" y1="418.3" x2="217.5" y2="418.3" stroke="#1a1aff" stroke-width="1.4"/>
<line x1="214.3" y1="351.3" x2="217.5" y2="351.3" stroke="#1a1aff" stroke-width="1.4"/>
<line x1="259.2" y1="412.8" x2="259.2" y2="346.8" stroke="#1a1aff" stroke-width="1.25"/>
<line x1="257.6" y1="412.8" x2="260.8" y2="412.8" stroke="#1a1aff" stroke-width="1.4"/>
<line x1="257.6" y1="346.8" x2="260.8" y2="346.8" stroke="#1a1aff" stroke-width="1.4"/>
<line x1="50.2" y1="399.5" x2="66.5" y2="399.5" stroke="#ff1a1a" stroke-width="1.4"/>
<line x1="58.5" y1="394.2" x2="58.5" y2="404.8" stroke="#ff1a1a" stroke-width="1.4"/>
<line x1="56.8" y1="394.2" x2="60.2" y2="394.2" stroke="#ff1a1a" stroke-width="1.4"/>
<line x1="56.8" y1="404.8" x2="60.2" y2="404.8" stroke="#ff1a1a" stroke-width="1.4"/>
<text x="69.1" y="403.9" font-size="11.2" fill="#111" textLength="53.2" lengthAdjust="spacingAndGlyphs">1910&#8211;1960</text>
<line x1="50.2" y1="413.4" x2="66.5" y2="413.4" stroke="#1a1aff" stroke-width="1.4"/>
<line x1="58.5" y1="408.1" x2="58.5" y2="418.7" stroke="#1a1aff" stroke-width="1.4"/>
<line x1="56.8" y1="408.1" x2="60.2" y2="408.1" stroke="#1a1aff" stroke-width="1.4"/>
<line x1="56.8" y1="418.7" x2="60.2" y2="418.7" stroke="#1a1aff" stroke-width="1.4"/>
<text x="69.1" y="417.8" font-size="11.2" fill="#111" textLength="53.2" lengthAdjust="spacingAndGlyphs">1960&#8211;2010</text>
<text x="151.2" y="457.3" font-size="12.2" text-anchor="middle" fill="#111" textLength="58.8" lengthAdjust="spacingAndGlyphs">Lead years</text>
<text transform="translate(12.3,343.4) rotate(-90)" font-size="12" text-anchor="middle" fill="#111" textLength="25.0" lengthAdjust="spacingAndGlyphs">ACC</text>
<text x="49.6" y="252.3" font-size="12" fill="#111" stroke="#111" stroke-width="0.25" textLength="13.6" lengthAdjust="spacingAndGlyphs">(c)</text>
<rect x="326.8" y="260.4" width="216.7" height="166.4" fill="#fff" stroke="#a8a8a8" stroke-width="1"/>
<line x1="326.8" y1="426.8" x2="326.8" y2="424.6" stroke="#a8a8a8" stroke-width="1"/>
<line x1="326.8" y1="260.4" x2="326.8" y2="262.6" stroke="#a8a8a8" stroke-width="1"/>
<text x="326.8" y="442.3" font-size="12" text-anchor="middle" fill="#111">0</text>
<line x1="370.1" y1="426.8" x2="370.1" y2="424.6" stroke="#a8a8a8" stroke-width="1"/>
<line x1="370.1" y1="260.4" x2="370.1" y2="262.6" stroke="#a8a8a8" stroke-width="1"/>
<text x="370.1" y="442.3" font-size="12" text-anchor="middle" fill="#111">1</text>
<line x1="413.5" y1="426.8" x2="413.5" y2="424.6" stroke="#a8a8a8" stroke-width="1"/>
<line x1="413.5" y1="260.4" x2="413.5" y2="262.6" stroke="#a8a8a8" stroke-width="1"/>
<text x="413.5" y="442.3" font-size="12" text-anchor="middle" fill="#111">2</text>
<line x1="456.8" y1="426.8" x2="456.8" y2="424.6" stroke="#a8a8a8" stroke-width="1"/>
<line x1="456.8" y1="260.4" x2="456.8" y2="262.6" stroke="#a8a8a8" stroke-width="1"/>
<text x="456.8" y="442.3" font-size="12" text-anchor="middle" fill="#111">3</text>
<line x1="500.2" y1="426.8" x2="500.2" y2="424.6" stroke="#a8a8a8" stroke-width="1"/>
<line x1="500.2" y1="260.4" x2="500.2" y2="262.6" stroke="#a8a8a8" stroke-width="1"/>
<text x="500.2" y="442.3" font-size="12" text-anchor="middle" fill="#111">4</text>
<line x1="543.5" y1="426.8" x2="543.5" y2="424.6" stroke="#a8a8a8" stroke-width="1"/>
<line x1="543.5" y1="260.4" x2="543.5" y2="262.6" stroke="#a8a8a8" stroke-width="1"/>
<text x="543.5" y="442.3" font-size="12" text-anchor="middle" fill="#111">5</text>
<line x1="326.8" y1="426.8" x2="329.0" y2="426.8" stroke="#a8a8a8" stroke-width="1"/>
<line x1="543.5" y1="426.8" x2="541.3" y2="426.8" stroke="#a8a8a8" stroke-width="1"/>
<text x="322.2" y="431.3" font-size="12" text-anchor="end" fill="#111">0</text>
<line x1="326.8" y1="385.2" x2="329.0" y2="385.2" stroke="#a8a8a8" stroke-width="1"/>
<line x1="543.5" y1="385.2" x2="541.3" y2="385.2" stroke="#a8a8a8" stroke-width="1"/>
<text x="322.2" y="389.7" font-size="12" text-anchor="end" fill="#111">0.5</text>
<line x1="326.8" y1="343.6" x2="329.0" y2="343.6" stroke="#a8a8a8" stroke-width="1"/>
<line x1="543.5" y1="343.6" x2="541.3" y2="343.6" stroke="#a8a8a8" stroke-width="1"/>
<text x="322.2" y="348.1" font-size="12" text-anchor="end" fill="#111">1</text>
<line x1="326.8" y1="302.0" x2="329.0" y2="302.0" stroke="#a8a8a8" stroke-width="1"/>
<line x1="543.5" y1="302.0" x2="541.3" y2="302.0" stroke="#a8a8a8" stroke-width="1"/>
<text x="322.2" y="306.5" font-size="12" text-anchor="end" fill="#111">1.5</text>
<line x1="326.8" y1="260.4" x2="329.0" y2="260.4" stroke="#a8a8a8" stroke-width="1"/>
<line x1="543.5" y1="260.4" x2="541.3" y2="260.4" stroke="#a8a8a8" stroke-width="1"/>
<text x="322.2" y="264.9" font-size="12" text-anchor="end" fill="#111">2</text>
<polyline points="326.8,417.8 370.1,393.5 413.5,367.0 456.8,361.4 500.2,357.0 543.5,343.4" fill="none" stroke="#ff1a1a" stroke-width="1.45" stroke-linejoin="round"/>
<line x1="326.8" y1="420.5" x2="326.8" y2="416.0" stroke="#ff1a1a" stroke-width="1.25"/>
<line x1="325.2" y1="420.5" x2="328.4" y2="420.5" stroke="#ff1a1a" stroke-width="1.4"/>
<line x1="325.2" y1="416.0" x2="328.4" y2="416.0" stroke="#ff1a1a" stroke-width="1.4"/>
<line x1="370.1" y1="399.8" x2="370.1" y2="389.1" stroke="#ff1a1a" stroke-width="1.25"/>
<line x1="368.5" y1="399.8" x2="371.7" y2="399.8" stroke="#ff1a1a" stroke-width="1.4"/>
<line x1="368.5" y1="389.1" x2="371.7" y2="389.1" stroke="#ff1a1a" stroke-width="1.4"/>
<line x1="413.5" y1="379.5" x2="413.5" y2="358.8" stroke="#ff1a1a" stroke-width="1.25"/>
<line x1="411.9" y1="379.5" x2="415.1" y2="379.5" stroke="#ff1a1a" stroke-width="1.4"/>
<line x1="411.9" y1="358.8" x2="415.1" y2="358.8" stroke="#ff1a1a" stroke-width="1.4"/>
<line x1="456.8" y1="372.3" x2="456.8" y2="351.5" stroke="#ff1a1a" stroke-width="1.25"/>
<line x1="455.2" y1="372.3" x2="458.4" y2="372.3" stroke="#ff1a1a" stroke-width="1.4"/>
<line x1="455.2" y1="351.5" x2="458.4" y2="351.5" stroke="#ff1a1a" stroke-width="1.4"/>
<line x1="500.2" y1="372.0" x2="500.2" y2="344.7" stroke="#ff1a1a" stroke-width="1.25"/>
<line x1="498.6" y1="372.0" x2="501.8" y2="372.0" stroke="#ff1a1a" stroke-width="1.4"/>
<line x1="498.6" y1="344.7" x2="501.8" y2="344.7" stroke="#ff1a1a" stroke-width="1.4"/>
<line x1="543.5" y1="359.0" x2="543.5" y2="332.8" stroke="#ff1a1a" stroke-width="1.25"/>
<line x1="541.9" y1="359.0" x2="545.1" y2="359.0" stroke="#ff1a1a" stroke-width="1.4"/>
<line x1="541.9" y1="332.8" x2="545.1" y2="332.8" stroke="#ff1a1a" stroke-width="1.4"/>
<polyline points="326.8,415.2 370.1,374.9 413.5,342.0 456.8,333.8 500.2,308.2 543.5,313.6" fill="none" stroke="#1a1aff" stroke-width="1.45" stroke-linejoin="round"/>
<line x1="326.8" y1="416.8" x2="326.8" y2="413.5" stroke="#1a1aff" stroke-width="1.25"/>
<line x1="325.2" y1="416.8" x2="328.4" y2="416.8" stroke="#1a1aff" stroke-width="1.4"/>
<line x1="325.2" y1="413.5" x2="328.4" y2="413.5" stroke="#1a1aff" stroke-width="1.4"/>
<line x1="370.1" y1="383.9" x2="370.1" y2="368.6" stroke="#1a1aff" stroke-width="1.25"/>
<line x1="368.5" y1="383.9" x2="371.7" y2="383.9" stroke="#1a1aff" stroke-width="1.4"/>
<line x1="368.5" y1="368.6" x2="371.7" y2="368.6" stroke="#1a1aff" stroke-width="1.4"/>
<line x1="413.5" y1="358.1" x2="413.5" y2="335.7" stroke="#1a1aff" stroke-width="1.25"/>
<line x1="411.9" y1="358.1" x2="415.1" y2="358.1" stroke="#1a1aff" stroke-width="1.4"/>
<line x1="411.9" y1="335.7" x2="415.1" y2="335.7" stroke="#1a1aff" stroke-width="1.4"/>
<line x1="456.8" y1="353.3" x2="456.8" y2="325.6" stroke="#1a1aff" stroke-width="1.25"/>
<line x1="455.2" y1="353.3" x2="458.4" y2="353.3" stroke="#1a1aff" stroke-width="1.4"/>
<line x1="455.2" y1="325.6" x2="458.4" y2="325.6" stroke="#1a1aff" stroke-width="1.4"/>
<line x1="500.2" y1="336.1" x2="500.2" y2="293.7" stroke="#1a1aff" stroke-width="1.25"/>
<line x1="498.6" y1="336.1" x2="501.8" y2="336.1" stroke="#1a1aff" stroke-width="1.4"/>
<line x1="498.6" y1="293.7" x2="501.8" y2="293.7" stroke="#1a1aff" stroke-width="1.4"/>
<line x1="543.5" y1="334.8" x2="543.5" y2="298.6" stroke="#1a1aff" stroke-width="1.25"/>
<line x1="541.9" y1="334.8" x2="545.1" y2="334.8" stroke="#1a1aff" stroke-width="1.4"/>
<line x1="541.9" y1="298.6" x2="545.1" y2="298.6" stroke="#1a1aff" stroke-width="1.4"/>
<line x1="462.4" y1="399.5" x2="478.7" y2="399.5" stroke="#ff1a1a" stroke-width="1.4"/>
<line x1="470.7" y1="394.2" x2="470.7" y2="404.8" stroke="#ff1a1a" stroke-width="1.4"/>
<line x1="469.0" y1="394.2" x2="472.4" y2="394.2" stroke="#ff1a1a" stroke-width="1.4"/>
<line x1="469.0" y1="404.8" x2="472.4" y2="404.8" stroke="#ff1a1a" stroke-width="1.4"/>
<text x="481.3" y="403.9" font-size="11.2" fill="#111" textLength="53.2" lengthAdjust="spacingAndGlyphs">1910&#8211;1960</text>
<line x1="462.4" y1="413.4" x2="478.7" y2="413.4" stroke="#1a1aff" stroke-width="1.4"/>
<line x1="470.7" y1="408.1" x2="470.7" y2="418.7" stroke="#1a1aff" stroke-width="1.4"/>
<line x1="469.0" y1="408.1" x2="472.4" y2="408.1" stroke="#1a1aff" stroke-width="1.4"/>
<line x1="469.0" y1="418.7" x2="472.4" y2="418.7" stroke="#1a1aff" stroke-width="1.4"/>
<text x="481.3" y="417.8" font-size="11.2" fill="#111" textLength="53.2" lengthAdjust="spacingAndGlyphs">1960&#8211;2010</text>
<text x="435.4" y="457.3" font-size="12.2" text-anchor="middle" fill="#111" textLength="58.8" lengthAdjust="spacingAndGlyphs">Lead years</text>
<text transform="translate(302.2,343.4) rotate(-90)" font-size="12" text-anchor="middle" fill="#111" textLength="41.4" lengthAdjust="spacingAndGlyphs">SRMSE</text>
<text x="333.8" y="252.3" font-size="12" fill="#111" stroke="#111" stroke-width="0.25" textLength="13.6" lengthAdjust="spacingAndGlyphs">(d)</text>
</svg></body></html>
